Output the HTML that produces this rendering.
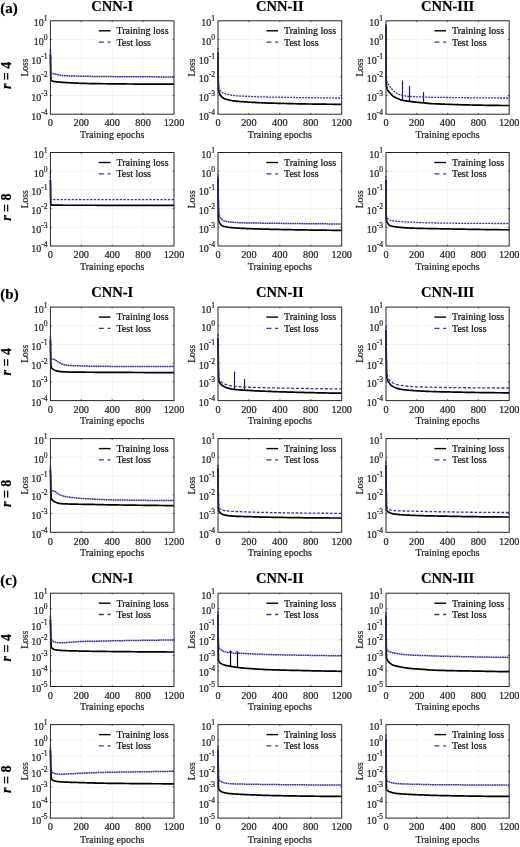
<!DOCTYPE html>
<html><head><meta charset="utf-8"><title>Training loss curves</title>
<style>html,body{margin:0;padding:0;background:#fff;}svg{display:block;}.s{font-family:"Liberation Serif","Times New Roman",serif;fill:#262626;stroke:#262626;stroke-width:0.22px;}.t{font-size:10px;}.tk{font-size:10px;text-anchor:end;}.sp{font-size:7.6px;}.xc{font-size:10px;text-anchor:middle;}.xt{font-size:10.3px;}.yl{font-size:9.5px;text-anchor:middle;}.lg{font-size:10px;fill:#111;stroke:#111;}.b{font-weight:bold;fill:#000;stroke:#000;stroke-width:0.2px;}.ti{font-size:14.5px;text-anchor:middle;}.sec{font-size:15px;}.rl{font-size:14px;text-anchor:middle;}.g{stroke:#ededed;stroke-width:0.6;fill:none;}.ax{stroke:#262626;stroke-width:1;fill:none;}.tm{stroke:#262626;stroke-width:0.8;fill:none;}.tr{stroke:#000;stroke-width:1.7;fill:none;stroke-linejoin:round;}.te{stroke:#3030b4;fill:none;stroke-linejoin:round;}</style></head><body>
<svg width="520" height="847" viewBox="0 0 520 847">
<rect width="520" height="847" fill="#fff"/>
<text class="s b sec" x="0.3" y="12.7">(a)</text>
<text class="s b ti" x="112.2" y="11">CNN-I</text>
<text class="s b ti" x="279.85" y="11">CNN-II</text>
<text class="s b ti" x="447.6" y="11">CNN-III</text>
<text class="s b sec" x="0.3" y="299">(b)</text>
<text class="s b ti" x="112.2" y="297.3">CNN-I</text>
<text class="s b ti" x="279.85" y="297.3">CNN-II</text>
<text class="s b ti" x="447.6" y="297.3">CNN-III</text>
<text class="s b sec" x="0.3" y="585.1">(c)</text>
<text class="s b ti" x="112.2" y="583.4">CNN-I</text>
<text class="s b ti" x="279.85" y="583.4">CNN-II</text>
<text class="s b ti" x="447.6" y="583.4">CNN-III</text>
<text class="s b rl" transform="translate(10.7 75.4) rotate(-90)"><tspan font-style="italic">r</tspan> = 4</text>
<path class="g" d="M81.3 20.8V114.2M112.2 20.8V114.2M143.1 20.8V114.2M50.4 39.48H174M50.4 58.16H174M50.4 76.84H174M50.4 95.52H174"/>
<path class="tr" d="M50.4 55.00 L50.6 67.37 L50.8 76.89 L51.0 79.00 L51.2 79.61 L51.4 80.08 L51.6 80.44 L51.8 80.71 L52.0 80.89 L52.2 81.02 L52.4 81.10 L52.9 81.25 L53.4 81.38 L53.9 81.48 L54.4 81.57 L54.9 81.65 L55.4 81.71 L55.9 81.76 L56.4 81.81 L56.9 81.85 L57.4 81.89 L57.9 81.94 L58.4 81.98 L58.9 82.03 L59.4 82.08 L59.9 82.12 L60.4 82.17 L60.9 82.21 L61.4 82.25 L61.9 82.29 L62.4 82.32 L63.4 82.40 L64.4 82.46 L65.4 82.53 L66.4 82.59 L67.4 82.65 L68.4 82.71 L69.4 82.77 L70.4 82.83 L71.4 82.89 L72.4 82.94 L73.4 83.00 L74.4 83.05 L75.4 83.10 L76.4 83.14 L77.4 83.18 L78.4 83.22 L79.4 83.26 L80.4 83.30 L81.4 83.33 L82.4 83.36 L83.4 83.39 L84.4 83.42 L85.4 83.45 L86.4 83.47 L87.4 83.50 L88.4 83.52 L89.4 83.54 L90.4 83.56 L92.9 83.61 L95.4 83.65 L97.9 83.69 L100.4 83.72 L102.9 83.74 L105.4 83.77 L107.9 83.79 L110.4 83.82 L112.9 83.84 L115.4 83.87 L117.9 83.89 L120.4 83.92 L122.9 83.94 L125.4 83.96 L127.9 83.98 L130.4 84.00 L132.9 84.02 L135.4 84.04 L137.9 84.06 L140.4 84.08 L142.9 84.10 L145.4 84.11 L147.9 84.12 L150.4 84.14 L152.9 84.15 L155.4 84.16 L157.9 84.17 L160.4 84.18 L162.9 84.19 L165.4 84.19 L167.9 84.20 L170.4 84.20 L172.9 84.20 L174.0 84.20"/>
<path class="te" stroke-width="1.5" stroke-dasharray="1.8 0.5" d="M50.4 49.50 L50.6 61.56 L50.8 71.27 L51.0 72.98 L51.2 73.11 L51.4 73.23 L51.6 73.32 L51.8 73.40 L52.0 73.46 L52.2 73.52 L52.4 73.56 L52.9 73.64 L53.4 73.72 L53.9 73.83 L54.4 73.95 L54.9 74.06 L55.4 74.17 L55.9 74.28 L56.4 74.38 L56.9 74.48 L57.4 74.58 L57.9 74.67 L58.4 74.76 L58.9 74.86 L59.4 74.95 L59.9 75.05 L60.4 75.15 L60.9 75.25 L61.4 75.34 L61.9 75.42 L62.4 75.50 L63.4 75.60 L64.4 75.67 L65.4 75.73 L66.4 75.78 L67.4 75.82 L68.4 75.86 L69.4 75.89 L70.4 75.93 L71.4 75.95 L72.4 75.98 L73.4 76.01 L74.4 76.04 L75.4 76.06 L76.4 76.09 L77.4 76.11 L78.4 76.13 L79.4 76.15 L80.4 76.17 L81.4 76.19 L82.4 76.21 L83.4 76.23 L84.4 76.24 L85.4 76.26 L86.4 76.28 L87.4 76.30 L88.4 76.32 L89.4 76.34 L90.4 76.36 L92.9 76.41 L95.4 76.45 L97.9 76.49 L100.4 76.51 L102.9 76.54 L105.4 76.56 L107.9 76.58 L110.4 76.60 L112.9 76.62 L115.4 76.64 L117.9 76.66 L120.4 76.68 L122.9 76.70 L125.4 76.72 L127.9 76.73 L130.4 76.75 L132.9 76.77 L135.4 76.78 L137.9 76.80 L140.4 76.81 L142.9 76.82 L145.4 76.83 L147.9 76.84 L150.4 76.85 L152.9 76.86 L155.4 76.87 L157.9 76.88 L160.4 76.88 L162.9 76.89 L165.4 76.89 L167.9 76.90 L170.4 76.90 L172.9 76.90 L174.0 76.90"/>
<rect x="96.4" y="20.8" width="77.6" height="26" fill="#fff"/>
<rect class="ax" x="50.4" y="20.8" width="123.6" height="93.4"/>
<path class="tm" d="M81.3 114.2v-1.3M81.3 20.8v1.3M112.2 114.2v-1.3M112.2 20.8v1.3M143.1 114.2v-1.3M143.1 20.8v1.3M50.4 39.48h1.3M174 39.48h-1.3M50.4 58.16h1.3M174 58.16h-1.3M50.4 76.84h1.3M174 76.84h-1.3M50.4 95.52h1.3M174 95.52h-1.3"/>
<text class="s tk" x="47.5" y="26.3">10<tspan class="sp" dy="-5">1</tspan></text>
<text class="s tk" x="47.5" y="44.98">10<tspan class="sp" dy="-5">0</tspan></text>
<text class="s tk" x="47.5" y="63.66">10<tspan class="sp" dy="-5">-1</tspan></text>
<text class="s tk" x="47.5" y="82.34">10<tspan class="sp" dy="-5">-2</tspan></text>
<text class="s tk" x="47.5" y="101.02">10<tspan class="sp" dy="-5">-3</tspan></text>
<text class="s tk" x="47.5" y="119.7">10<tspan class="sp" dy="-5">-4</tspan></text>
<text class="s xc xt" x="50.4" y="126.4">0</text>
<text class="s xc xt" x="81.3" y="126.4">200</text>
<text class="s xc xt" x="112.2" y="126.4">400</text>
<text class="s xc xt" x="143.1" y="126.4">800</text>
<text class="s xc xt" x="174" y="126.4">1200</text>
<text class="s xc" x="112.2" y="137.8">Training epochs</text>
<text class="s yl" transform="translate(27.6 67.5) rotate(-90)">Loss</text>
<path d="M98.8 30.8h11.7" stroke="#000" stroke-width="1.4"/>
<path d="M98.8 42.1h11.7" stroke="#3030b4" stroke-width="1.3" stroke-dasharray="5 3.8"/>
<text class="s lg" x="116.4" y="34.1">Training loss</text>
<text class="s lg" x="116.4" y="45.65">Test loss</text>
<path class="g" d="M248.93 20.8V114.2M279.85 20.8V114.2M310.77 20.8V114.2M218 39.48H341.7M218 58.16H341.7M218 76.84H341.7M218 95.52H341.7"/>
<path class="tr" d="M218.0 53.00 L218.2 75.87 L218.4 88.80 L218.6 90.25 L218.8 91.34 L219.0 92.14 L219.2 92.72 L219.4 93.16 L219.6 93.53 L219.8 93.90 L220.0 94.31 L220.5 95.29 L221.0 96.09 L221.5 96.72 L222.0 97.16 L222.5 97.53 L223.0 97.86 L223.5 98.15 L224.0 98.42 L224.5 98.65 L225.0 98.86 L225.5 99.05 L226.0 99.22 L226.5 99.37 L227.0 99.51 L227.5 99.65 L228.0 99.78 L228.5 99.90 L229.0 100.02 L229.5 100.14 L230.0 100.24 L231.0 100.44 L232.0 100.63 L233.0 100.79 L234.0 100.93 L235.0 101.06 L236.0 101.18 L237.0 101.28 L238.0 101.37 L239.0 101.45 L240.0 101.53 L241.0 101.60 L242.0 101.66 L243.0 101.72 L244.0 101.78 L245.0 101.85 L246.0 101.91 L247.0 101.98 L248.0 102.05 L249.0 102.11 L250.0 102.18 L251.0 102.24 L252.0 102.30 L253.0 102.36 L254.0 102.42 L255.0 102.47 L256.0 102.53 L257.0 102.58 L258.0 102.63 L260.5 102.75 L263.0 102.86 L265.5 102.95 L268.0 103.03 L270.5 103.10 L273.0 103.16 L275.5 103.23 L278.0 103.30 L280.5 103.36 L283.0 103.43 L285.5 103.49 L288.0 103.55 L290.5 103.61 L293.0 103.67 L295.5 103.73 L298.0 103.78 L300.5 103.83 L303.0 103.88 L305.5 103.93 L308.0 103.98 L310.5 104.02 L313.0 104.06 L315.5 104.10 L318.0 104.13 L320.5 104.16 L323.0 104.19 L325.5 104.22 L328.0 104.24 L330.5 104.26 L333.0 104.28 L335.5 104.29 L338.0 104.30 L340.5 104.30 L341.7 104.30"/>
<path class="te" stroke-width="1.3" stroke-dasharray="2 1" d="M218.0 48.00 L218.2 67.10 L218.4 81.15 L218.6 84.91 L218.8 86.30 L219.0 87.23 L219.2 87.88 L219.4 88.40 L219.6 88.90 L219.8 89.36 L220.0 89.79 L220.5 90.71 L221.0 91.43 L221.5 91.97 L222.0 92.33 L222.5 92.63 L223.0 92.90 L223.5 93.13 L224.0 93.33 L224.5 93.51 L225.0 93.67 L225.5 93.81 L226.0 93.95 L226.5 94.07 L227.0 94.20 L227.5 94.32 L228.0 94.44 L228.5 94.56 L229.0 94.67 L229.5 94.78 L230.0 94.89 L231.0 95.09 L232.0 95.27 L233.0 95.43 L234.0 95.57 L235.0 95.69 L236.0 95.78 L237.0 95.86 L238.0 95.93 L239.0 95.99 L240.0 96.04 L241.0 96.09 L242.0 96.14 L243.0 96.18 L244.0 96.22 L245.0 96.26 L246.0 96.31 L247.0 96.36 L248.0 96.40 L249.0 96.45 L250.0 96.49 L251.0 96.53 L252.0 96.57 L253.0 96.61 L254.0 96.65 L255.0 96.68 L256.0 96.72 L257.0 96.75 L258.0 96.78 L260.5 96.85 L263.0 96.91 L265.5 96.97 L268.0 97.02 L270.5 97.07 L273.0 97.11 L275.5 97.16 L278.0 97.21 L280.5 97.26 L283.0 97.30 L285.5 97.35 L288.0 97.39 L290.5 97.43 L293.0 97.48 L295.5 97.52 L298.0 97.56 L300.5 97.60 L303.0 97.64 L305.5 97.67 L308.0 97.71 L310.5 97.74 L313.0 97.78 L315.5 97.81 L318.0 97.83 L320.5 97.86 L323.0 97.89 L325.5 97.91 L328.0 97.93 L330.5 97.95 L333.0 97.96 L335.5 97.98 L338.0 97.99 L340.5 98.00 L341.7 98.00"/>
<rect x="264" y="20.8" width="77.7" height="26" fill="#fff"/>
<rect class="ax" x="218" y="20.8" width="123.7" height="93.4"/>
<path class="tm" d="M248.93 114.2v-1.3M248.93 20.8v1.3M279.85 114.2v-1.3M279.85 20.8v1.3M310.77 114.2v-1.3M310.77 20.8v1.3M218 39.48h1.3M341.7 39.48h-1.3M218 58.16h1.3M341.7 58.16h-1.3M218 76.84h1.3M341.7 76.84h-1.3M218 95.52h1.3M341.7 95.52h-1.3"/>
<text class="s tk" x="215.1" y="26.3">10<tspan class="sp" dy="-5">1</tspan></text>
<text class="s tk" x="215.1" y="44.98">10<tspan class="sp" dy="-5">0</tspan></text>
<text class="s tk" x="215.1" y="63.66">10<tspan class="sp" dy="-5">-1</tspan></text>
<text class="s tk" x="215.1" y="82.34">10<tspan class="sp" dy="-5">-2</tspan></text>
<text class="s tk" x="215.1" y="101.02">10<tspan class="sp" dy="-5">-3</tspan></text>
<text class="s tk" x="215.1" y="119.7">10<tspan class="sp" dy="-5">-4</tspan></text>
<text class="s xc xt" x="218" y="126.4">0</text>
<text class="s xc xt" x="248.93" y="126.4">200</text>
<text class="s xc xt" x="279.85" y="126.4">400</text>
<text class="s xc xt" x="310.77" y="126.4">800</text>
<text class="s xc xt" x="341.7" y="126.4">1200</text>
<text class="s xc" x="279.85" y="137.8">Training epochs</text>
<text class="s yl" transform="translate(195.2 67.5) rotate(-90)">Loss</text>
<path d="M266.4 30.8h11.7" stroke="#000" stroke-width="1.4"/>
<path d="M266.4 42.1h11.7" stroke="#3030b4" stroke-width="1.3" stroke-dasharray="5 3.8"/>
<text class="s lg" x="284" y="34.1">Training loss</text>
<text class="s lg" x="284" y="45.65">Test loss</text>
<path class="g" d="M416.8 20.8V114.2M447.6 20.8V114.2M478.4 20.8V114.2M386 39.48H509.2M386 58.16H509.2M386 76.84H509.2M386 95.52H509.2"/>
<path d="M402.5 100.3V80.7" stroke="#1a1a70" stroke-width="1.2"/>
<path d="M409.5 101.2V86" stroke="#1a1a70" stroke-width="1.2"/>
<path d="M423.5 102.8V92.2" stroke="#1a1a70" stroke-width="1.2"/>
<path class="tr" d="M386.0 26.00 L386.2 80.20 L386.4 84.19 L386.6 86.41 L386.8 87.54 L387.0 88.23 L387.2 88.83 L387.4 89.35 L387.6 89.81 L387.8 90.21 L388.0 90.56 L388.5 91.26 L389.0 91.82 L389.5 92.35 L390.0 92.95 L390.5 93.56 L391.0 94.13 L391.5 94.67 L392.0 95.18 L392.5 95.64 L393.0 96.06 L393.5 96.43 L394.0 96.76 L394.5 97.07 L395.0 97.36 L395.5 97.62 L396.0 97.87 L396.5 98.11 L397.0 98.33 L397.5 98.54 L398.0 98.74 L399.0 99.13 L400.0 99.49 L401.0 99.82 L402.0 100.11 L403.0 100.36 L404.0 100.56 L405.0 100.74 L406.0 100.91 L407.0 101.06 L408.0 101.20 L409.0 101.34 L410.0 101.46 L411.0 101.58 L412.0 101.70 L413.0 101.82 L414.0 101.94 L415.0 102.05 L416.0 102.16 L417.0 102.27 L418.0 102.37 L419.0 102.47 L420.0 102.57 L421.0 102.66 L422.0 102.75 L423.0 102.85 L424.0 102.94 L425.0 103.04 L426.0 103.14 L428.5 103.37 L431.0 103.57 L433.5 103.73 L436.0 103.83 L438.5 103.94 L441.0 104.03 L443.5 104.13 L446.0 104.23 L448.5 104.32 L451.0 104.41 L453.5 104.49 L456.0 104.58 L458.5 104.65 L461.0 104.73 L463.5 104.81 L466.0 104.88 L468.5 104.94 L471.0 105.01 L473.5 105.07 L476.0 105.12 L478.5 105.18 L481.0 105.22 L483.5 105.27 L486.0 105.31 L488.5 105.35 L491.0 105.38 L493.5 105.41 L496.0 105.44 L498.5 105.46 L501.0 105.48 L503.5 105.49 L506.0 105.50 L508.5 105.50 L509.2 105.50"/>
<path class="te" stroke-width="1.3" stroke-dasharray="2 1" d="M386.0 24.00 L386.2 59.19 L386.4 79.20 L386.6 80.23 L386.8 81.07 L387.0 81.74 L387.2 82.28 L387.4 82.70 L387.6 83.04 L387.8 83.30 L388.0 83.53 L388.5 84.07 L389.0 84.84 L389.5 85.65 L390.0 86.43 L390.5 87.16 L391.0 87.86 L391.5 88.51 L392.0 89.13 L392.5 89.70 L393.0 90.23 L393.5 90.71 L394.0 91.16 L394.5 91.58 L395.0 91.99 L395.5 92.37 L396.0 92.73 L396.5 93.07 L397.0 93.38 L397.5 93.66 L398.0 93.92 L399.0 94.35 L400.0 94.73 L401.0 95.06 L402.0 95.34 L403.0 95.56 L404.0 95.74 L405.0 95.90 L406.0 96.05 L407.0 96.18 L408.0 96.30 L409.0 96.41 L410.0 96.51 L411.0 96.59 L412.0 96.66 L413.0 96.71 L414.0 96.75 L415.0 96.79 L416.0 96.83 L417.0 96.86 L418.0 96.88 L419.0 96.91 L420.0 96.93 L421.0 96.96 L422.0 96.99 L423.0 97.01 L424.0 97.04 L425.0 97.07 L426.0 97.10 L428.5 97.18 L431.0 97.24 L433.5 97.29 L436.0 97.33 L438.5 97.37 L441.0 97.41 L443.5 97.44 L446.0 97.48 L448.5 97.51 L451.0 97.55 L453.5 97.58 L456.0 97.62 L458.5 97.65 L461.0 97.68 L463.5 97.71 L466.0 97.74 L468.5 97.76 L471.0 97.79 L473.5 97.81 L476.0 97.84 L478.5 97.86 L481.0 97.88 L483.5 97.90 L486.0 97.92 L488.5 97.93 L491.0 97.95 L493.5 97.96 L496.0 97.97 L498.5 97.98 L501.0 97.99 L503.5 97.99 L506.0 98.00 L508.5 98.00 L509.2 98.00"/>
<rect x="432" y="20.8" width="77.2" height="26" fill="#fff"/>
<rect class="ax" x="386" y="20.8" width="123.2" height="93.4"/>
<path class="tm" d="M416.8 114.2v-1.3M416.8 20.8v1.3M447.6 114.2v-1.3M447.6 20.8v1.3M478.4 114.2v-1.3M478.4 20.8v1.3M386 39.48h1.3M509.2 39.48h-1.3M386 58.16h1.3M509.2 58.16h-1.3M386 76.84h1.3M509.2 76.84h-1.3M386 95.52h1.3M509.2 95.52h-1.3"/>
<text class="s tk" x="383.1" y="26.3">10<tspan class="sp" dy="-5">1</tspan></text>
<text class="s tk" x="383.1" y="44.98">10<tspan class="sp" dy="-5">0</tspan></text>
<text class="s tk" x="383.1" y="63.66">10<tspan class="sp" dy="-5">-1</tspan></text>
<text class="s tk" x="383.1" y="82.34">10<tspan class="sp" dy="-5">-2</tspan></text>
<text class="s tk" x="383.1" y="101.02">10<tspan class="sp" dy="-5">-3</tspan></text>
<text class="s tk" x="383.1" y="119.7">10<tspan class="sp" dy="-5">-4</tspan></text>
<text class="s xc xt" x="386" y="126.4">0</text>
<text class="s xc xt" x="416.8" y="126.4">200</text>
<text class="s xc xt" x="447.6" y="126.4">400</text>
<text class="s xc xt" x="478.4" y="126.4">800</text>
<text class="s xc xt" x="509.2" y="126.4">1200</text>
<text class="s xc" x="447.6" y="137.8">Training epochs</text>
<text class="s yl" transform="translate(363.2 67.5) rotate(-90)">Loss</text>
<path d="M434.4 30.8h11.7" stroke="#000" stroke-width="1.4"/>
<path d="M434.4 42.1h11.7" stroke="#3030b4" stroke-width="1.3" stroke-dasharray="5 3.8"/>
<text class="s lg" x="452" y="34.1">Training loss</text>
<text class="s lg" x="452" y="45.65">Test loss</text>
<text class="s b rl" transform="translate(10.7 207.15) rotate(-90)"><tspan font-style="italic">r</tspan> = 8</text>
<path class="g" d="M81.3 152.5V246M112.2 152.5V246M143.1 152.5V246M50.4 171.2H174M50.4 189.9H174M50.4 208.6H174M50.4 227.3H174"/>
<path class="tr" d="M50.4 180.00 L50.6 196.30 L50.8 204.50 L51.0 204.86 L51.2 205.08 L51.4 205.19 L51.6 205.20 L51.8 205.20 L52.0 205.20 L52.2 205.20 L52.4 205.20 L52.9 205.20 L53.4 205.20 L53.9 205.21 L54.4 205.21 L54.9 205.21 L55.4 205.21 L55.9 205.21 L56.4 205.21 L56.9 205.21 L57.4 205.21 L57.9 205.21 L58.4 205.22 L58.9 205.22 L59.4 205.22 L59.9 205.22 L60.4 205.22 L60.9 205.22 L61.4 205.22 L61.9 205.22 L62.4 205.22 L63.4 205.23 L64.4 205.23 L65.4 205.23 L66.4 205.23 L67.4 205.23 L68.4 205.24 L69.4 205.24 L70.4 205.24 L71.4 205.24 L72.4 205.24 L73.4 205.24 L74.4 205.25 L75.4 205.25 L76.4 205.25 L77.4 205.25 L78.4 205.25 L79.4 205.25 L80.4 205.26 L81.4 205.26 L82.4 205.26 L83.4 205.26 L84.4 205.26 L85.4 205.26 L86.4 205.26 L87.4 205.26 L88.4 205.27 L89.4 205.27 L90.4 205.27 L92.9 205.27 L95.4 205.27 L97.9 205.28 L100.4 205.28 L102.9 205.28 L105.4 205.28 L107.9 205.28 L110.4 205.29 L112.9 205.29 L115.4 205.29 L117.9 205.29 L120.4 205.29 L122.9 205.29 L125.4 205.29 L127.9 205.29 L130.4 205.30 L132.9 205.30 L135.4 205.30 L137.9 205.30 L140.4 205.30 L142.9 205.30 L145.4 205.30 L147.9 205.30 L150.4 205.30 L152.9 205.30 L155.4 205.30 L157.9 205.30 L160.4 205.30 L162.9 205.30 L165.4 205.30 L167.9 205.30 L170.4 205.30 L172.9 205.30 L174.0 205.30"/>
<path class="te" stroke-width="1.3" stroke-dasharray="2.3 1.4" d="M50.4 172.00 L50.6 189.99 L50.8 199.00 L51.0 199.31 L51.2 199.50 L51.4 199.59 L51.6 199.60 L51.8 199.60 L52.0 199.60 L52.2 199.60 L52.4 199.60 L52.9 199.60 L53.4 199.60 L53.9 199.61 L54.4 199.61 L54.9 199.61 L55.4 199.61 L55.9 199.61 L56.4 199.61 L56.9 199.61 L57.4 199.61 L57.9 199.61 L58.4 199.62 L58.9 199.62 L59.4 199.62 L59.9 199.62 L60.4 199.62 L60.9 199.62 L61.4 199.62 L61.9 199.62 L62.4 199.62 L63.4 199.63 L64.4 199.63 L65.4 199.63 L66.4 199.63 L67.4 199.63 L68.4 199.64 L69.4 199.64 L70.4 199.64 L71.4 199.64 L72.4 199.64 L73.4 199.64 L74.4 199.65 L75.4 199.65 L76.4 199.65 L77.4 199.65 L78.4 199.65 L79.4 199.65 L80.4 199.66 L81.4 199.66 L82.4 199.66 L83.4 199.66 L84.4 199.66 L85.4 199.66 L86.4 199.66 L87.4 199.66 L88.4 199.67 L89.4 199.67 L90.4 199.67 L92.9 199.67 L95.4 199.67 L97.9 199.68 L100.4 199.68 L102.9 199.68 L105.4 199.68 L107.9 199.68 L110.4 199.69 L112.9 199.69 L115.4 199.69 L117.9 199.69 L120.4 199.69 L122.9 199.69 L125.4 199.69 L127.9 199.69 L130.4 199.70 L132.9 199.70 L135.4 199.70 L137.9 199.70 L140.4 199.70 L142.9 199.70 L145.4 199.70 L147.9 199.70 L150.4 199.70 L152.9 199.70 L155.4 199.70 L157.9 199.70 L160.4 199.70 L162.9 199.70 L165.4 199.70 L167.9 199.70 L170.4 199.70 L172.9 199.70 L174.0 199.70"/>
<rect x="96.4" y="152.5" width="77.6" height="26" fill="#fff"/>
<rect class="ax" x="50.4" y="152.5" width="123.6" height="93.5"/>
<path class="tm" d="M81.3 246v-1.3M81.3 152.5v1.3M112.2 246v-1.3M112.2 152.5v1.3M143.1 246v-1.3M143.1 152.5v1.3M50.4 171.2h1.3M174 171.2h-1.3M50.4 189.9h1.3M174 189.9h-1.3M50.4 208.6h1.3M174 208.6h-1.3M50.4 227.3h1.3M174 227.3h-1.3"/>
<text class="s tk" x="47.5" y="158">10<tspan class="sp" dy="-5">1</tspan></text>
<text class="s tk" x="47.5" y="176.7">10<tspan class="sp" dy="-5">0</tspan></text>
<text class="s tk" x="47.5" y="195.4">10<tspan class="sp" dy="-5">-1</tspan></text>
<text class="s tk" x="47.5" y="214.1">10<tspan class="sp" dy="-5">-2</tspan></text>
<text class="s tk" x="47.5" y="232.8">10<tspan class="sp" dy="-5">-3</tspan></text>
<text class="s tk" x="47.5" y="251.5">10<tspan class="sp" dy="-5">-4</tspan></text>
<text class="s xc xt" x="50.4" y="258.2">0</text>
<text class="s xc xt" x="81.3" y="258.2">200</text>
<text class="s xc xt" x="112.2" y="258.2">400</text>
<text class="s xc xt" x="143.1" y="258.2">800</text>
<text class="s xc xt" x="174" y="258.2">1200</text>
<text class="s xc" x="112.2" y="269.6">Training epochs</text>
<text class="s yl" transform="translate(27.6 199.25) rotate(-90)">Loss</text>
<path d="M98.8 162.5h11.7" stroke="#000" stroke-width="1.4"/>
<path d="M98.8 173.8h11.7" stroke="#3030b4" stroke-width="1.3" stroke-dasharray="5 3.8"/>
<text class="s lg" x="116.4" y="165.8">Training loss</text>
<text class="s lg" x="116.4" y="177.35">Test loss</text>
<path class="g" d="M248.93 152.5V246M279.85 152.5V246M310.77 152.5V246M218 171.2H341.7M218 189.9H341.7M218 208.6H341.7M218 227.3H341.7"/>
<path class="tr" d="M218.0 178.00 L218.2 203.53 L218.4 217.90 L218.6 219.37 L218.8 220.48 L219.0 221.31 L219.2 221.91 L219.4 222.36 L219.6 222.71 L219.8 223.03 L220.0 223.37 L220.5 224.15 L221.0 224.75 L221.5 225.20 L222.0 225.51 L222.5 225.76 L223.0 225.99 L223.5 226.19 L224.0 226.37 L224.5 226.53 L225.0 226.67 L225.5 226.79 L226.0 226.89 L226.5 226.98 L227.0 227.07 L227.5 227.14 L228.0 227.22 L228.5 227.29 L229.0 227.35 L229.5 227.41 L230.0 227.47 L231.0 227.58 L232.0 227.68 L233.0 227.76 L234.0 227.84 L235.0 227.92 L236.0 227.99 L237.0 228.05 L238.0 228.12 L239.0 228.18 L240.0 228.23 L241.0 228.28 L242.0 228.33 L243.0 228.38 L244.0 228.42 L245.0 228.47 L246.0 228.51 L247.0 228.55 L248.0 228.59 L249.0 228.63 L250.0 228.67 L251.0 228.71 L252.0 228.75 L253.0 228.78 L254.0 228.82 L255.0 228.85 L256.0 228.89 L257.0 228.92 L258.0 228.95 L260.5 229.03 L263.0 229.10 L265.5 229.17 L268.0 229.22 L270.5 229.28 L273.0 229.33 L275.5 229.39 L278.0 229.44 L280.5 229.49 L283.0 229.55 L285.5 229.60 L288.0 229.65 L290.5 229.70 L293.0 229.75 L295.5 229.79 L298.0 229.84 L300.5 229.88 L303.0 229.93 L305.5 229.97 L308.0 230.01 L310.5 230.05 L313.0 230.08 L315.5 230.11 L318.0 230.15 L320.5 230.17 L323.0 230.20 L325.5 230.22 L328.0 230.24 L330.5 230.26 L333.0 230.28 L335.5 230.29 L338.0 230.29 L340.5 230.30 L341.7 230.30"/>
<path class="te" stroke-width="1.5" stroke-dasharray="1.8 0.5" d="M218.0 173.75 L218.2 185.36 L218.4 196.53 L218.6 205.81 L218.8 211.74 L219.0 213.57 L219.2 214.58 L219.4 215.42 L219.6 216.12 L219.8 216.69 L220.0 217.16 L220.5 218.01 L221.0 218.64 L221.5 219.17 L222.0 219.60 L222.5 219.96 L223.0 220.26 L223.5 220.51 L224.0 220.73 L224.5 220.93 L225.0 221.10 L225.5 221.25 L226.0 221.38 L226.5 221.48 L227.0 221.57 L227.5 221.65 L228.0 221.72 L228.5 221.79 L229.0 221.86 L229.5 221.92 L230.0 221.98 L231.0 222.09 L232.0 222.19 L233.0 222.28 L234.0 222.36 L235.0 222.42 L236.0 222.49 L237.0 222.55 L238.0 222.60 L239.0 222.65 L240.0 222.70 L241.0 222.74 L242.0 222.78 L243.0 222.82 L244.0 222.85 L245.0 222.88 L246.0 222.90 L247.0 222.93 L248.0 222.95 L249.0 222.97 L250.0 222.98 L251.0 223.00 L252.0 223.02 L253.0 223.03 L254.0 223.05 L255.0 223.06 L256.0 223.07 L257.0 223.08 L258.0 223.10 L260.5 223.12 L263.0 223.15 L265.5 223.18 L268.0 223.21 L270.5 223.24 L273.0 223.27 L275.5 223.31 L278.0 223.34 L280.5 223.37 L283.0 223.40 L285.5 223.43 L288.0 223.46 L290.5 223.49 L293.0 223.51 L295.5 223.54 L298.0 223.57 L300.5 223.60 L303.0 223.63 L305.5 223.65 L308.0 223.68 L310.5 223.71 L313.0 223.73 L315.5 223.76 L318.0 223.79 L320.5 223.81 L323.0 223.83 L325.5 223.86 L328.0 223.88 L330.5 223.90 L333.0 223.93 L335.5 223.95 L338.0 223.97 L340.5 223.99 L341.7 224.00"/>
<rect x="264" y="152.5" width="77.7" height="26" fill="#fff"/>
<rect class="ax" x="218" y="152.5" width="123.7" height="93.5"/>
<path class="tm" d="M248.93 246v-1.3M248.93 152.5v1.3M279.85 246v-1.3M279.85 152.5v1.3M310.77 246v-1.3M310.77 152.5v1.3M218 171.2h1.3M341.7 171.2h-1.3M218 189.9h1.3M341.7 189.9h-1.3M218 208.6h1.3M341.7 208.6h-1.3M218 227.3h1.3M341.7 227.3h-1.3"/>
<text class="s tk" x="215.1" y="158">10<tspan class="sp" dy="-5">1</tspan></text>
<text class="s tk" x="215.1" y="176.7">10<tspan class="sp" dy="-5">0</tspan></text>
<text class="s tk" x="215.1" y="195.4">10<tspan class="sp" dy="-5">-1</tspan></text>
<text class="s tk" x="215.1" y="214.1">10<tspan class="sp" dy="-5">-2</tspan></text>
<text class="s tk" x="215.1" y="232.8">10<tspan class="sp" dy="-5">-3</tspan></text>
<text class="s tk" x="215.1" y="251.5">10<tspan class="sp" dy="-5">-4</tspan></text>
<text class="s xc xt" x="218" y="258.2">0</text>
<text class="s xc xt" x="248.93" y="258.2">200</text>
<text class="s xc xt" x="279.85" y="258.2">400</text>
<text class="s xc xt" x="310.77" y="258.2">800</text>
<text class="s xc xt" x="341.7" y="258.2">1200</text>
<text class="s xc" x="279.85" y="269.6">Training epochs</text>
<text class="s yl" transform="translate(195.2 199.25) rotate(-90)">Loss</text>
<path d="M266.4 162.5h11.7" stroke="#000" stroke-width="1.4"/>
<path d="M266.4 173.8h11.7" stroke="#3030b4" stroke-width="1.3" stroke-dasharray="5 3.8"/>
<text class="s lg" x="284" y="165.8">Training loss</text>
<text class="s lg" x="284" y="177.35">Test loss</text>
<path class="g" d="M416.8 152.5V246M447.6 152.5V246M478.4 152.5V246M386 171.2H509.2M386 189.9H509.2M386 208.6H509.2M386 227.3H509.2"/>
<path class="tr" d="M386.0 180.00 L386.2 217.90 L386.4 219.61 L386.6 220.78 L386.8 221.54 L387.0 222.02 L387.2 222.37 L387.4 222.70 L387.6 223.06 L387.8 223.39 L388.0 223.70 L388.5 224.36 L389.0 224.87 L389.5 225.24 L390.0 225.49 L390.5 225.70 L391.0 225.88 L391.5 226.04 L392.0 226.18 L392.5 226.31 L393.0 226.42 L393.5 226.51 L394.0 226.60 L394.5 226.68 L395.0 226.76 L395.5 226.84 L396.0 226.91 L396.5 226.97 L397.0 227.04 L397.5 227.10 L398.0 227.16 L399.0 227.27 L400.0 227.36 L401.0 227.45 L402.0 227.54 L403.0 227.61 L404.0 227.69 L405.0 227.75 L406.0 227.82 L407.0 227.88 L408.0 227.94 L409.0 227.99 L410.0 228.04 L411.0 228.09 L412.0 228.13 L413.0 228.17 L414.0 228.21 L415.0 228.24 L416.0 228.27 L417.0 228.30 L418.0 228.33 L419.0 228.36 L420.0 228.38 L421.0 228.41 L422.0 228.43 L423.0 228.46 L424.0 228.48 L425.0 228.50 L426.0 228.52 L428.5 228.58 L431.0 228.62 L433.5 228.67 L436.0 228.72 L438.5 228.77 L441.0 228.81 L443.5 228.86 L446.0 228.91 L448.5 228.95 L451.0 229.00 L453.5 229.04 L456.0 229.09 L458.5 229.13 L461.0 229.17 L463.5 229.21 L466.0 229.25 L468.5 229.30 L471.0 229.33 L473.5 229.37 L476.0 229.41 L478.5 229.45 L481.0 229.48 L483.5 229.52 L486.0 229.55 L488.5 229.58 L491.0 229.61 L493.5 229.64 L496.0 229.67 L498.5 229.70 L501.0 229.73 L503.5 229.75 L506.0 229.77 L508.5 229.79 L509.2 229.80"/>
<path class="te" stroke-width="1.3" stroke-dasharray="2 1" d="M386.0 176.00 L386.2 201.18 L386.4 215.50 L386.6 216.25 L386.8 216.87 L387.0 217.39 L387.2 217.81 L387.4 218.15 L387.6 218.42 L387.8 218.63 L388.0 218.80 L388.5 219.12 L389.0 219.43 L389.5 219.72 L390.0 219.97 L390.5 220.19 L391.0 220.37 L391.5 220.53 L392.0 220.66 L392.5 220.76 L393.0 220.85 L393.5 220.93 L394.0 221.00 L394.5 221.07 L395.0 221.13 L395.5 221.18 L396.0 221.23 L396.5 221.28 L397.0 221.32 L397.5 221.36 L398.0 221.40 L399.0 221.47 L400.0 221.54 L401.0 221.61 L402.0 221.66 L403.0 221.72 L404.0 221.77 L405.0 221.82 L406.0 221.87 L407.0 221.92 L408.0 221.96 L409.0 222.00 L410.0 222.04 L411.0 222.08 L412.0 222.12 L413.0 222.17 L414.0 222.21 L415.0 222.25 L416.0 222.30 L417.0 222.34 L418.0 222.39 L419.0 222.44 L420.0 222.48 L421.0 222.53 L422.0 222.57 L423.0 222.62 L424.0 222.66 L425.0 222.70 L426.0 222.74 L428.5 222.84 L431.0 222.92 L433.5 222.98 L436.0 223.01 L438.5 223.04 L441.0 223.08 L443.5 223.11 L446.0 223.13 L448.5 223.16 L451.0 223.19 L453.5 223.21 L456.0 223.24 L458.5 223.26 L461.0 223.29 L463.5 223.31 L466.0 223.33 L468.5 223.35 L471.0 223.36 L473.5 223.38 L476.0 223.40 L478.5 223.41 L481.0 223.43 L483.5 223.44 L486.0 223.45 L488.5 223.46 L491.0 223.47 L493.5 223.48 L496.0 223.48 L498.5 223.49 L501.0 223.49 L503.5 223.50 L506.0 223.50 L508.5 223.50 L509.2 223.50"/>
<rect x="432" y="152.5" width="77.2" height="26" fill="#fff"/>
<rect class="ax" x="386" y="152.5" width="123.2" height="93.5"/>
<path class="tm" d="M416.8 246v-1.3M416.8 152.5v1.3M447.6 246v-1.3M447.6 152.5v1.3M478.4 246v-1.3M478.4 152.5v1.3M386 171.2h1.3M509.2 171.2h-1.3M386 189.9h1.3M509.2 189.9h-1.3M386 208.6h1.3M509.2 208.6h-1.3M386 227.3h1.3M509.2 227.3h-1.3"/>
<text class="s tk" x="383.1" y="158">10<tspan class="sp" dy="-5">1</tspan></text>
<text class="s tk" x="383.1" y="176.7">10<tspan class="sp" dy="-5">0</tspan></text>
<text class="s tk" x="383.1" y="195.4">10<tspan class="sp" dy="-5">-1</tspan></text>
<text class="s tk" x="383.1" y="214.1">10<tspan class="sp" dy="-5">-2</tspan></text>
<text class="s tk" x="383.1" y="232.8">10<tspan class="sp" dy="-5">-3</tspan></text>
<text class="s tk" x="383.1" y="251.5">10<tspan class="sp" dy="-5">-4</tspan></text>
<text class="s xc xt" x="386" y="258.2">0</text>
<text class="s xc xt" x="416.8" y="258.2">200</text>
<text class="s xc xt" x="447.6" y="258.2">400</text>
<text class="s xc xt" x="478.4" y="258.2">800</text>
<text class="s xc xt" x="509.2" y="258.2">1200</text>
<text class="s xc" x="447.6" y="269.6">Training epochs</text>
<text class="s yl" transform="translate(363.2 199.25) rotate(-90)">Loss</text>
<path d="M434.4 162.5h11.7" stroke="#000" stroke-width="1.4"/>
<path d="M434.4 173.8h11.7" stroke="#3030b4" stroke-width="1.3" stroke-dasharray="5 3.8"/>
<text class="s lg" x="452" y="165.8">Training loss</text>
<text class="s lg" x="452" y="177.35">Test loss</text>
<text class="s b rl" transform="translate(10.7 361.75) rotate(-90)"><tspan font-style="italic">r</tspan> = 4</text>
<path class="g" d="M81.3 307.1V400.6M112.2 307.1V400.6M143.1 307.1V400.6M50.4 325.8H174M50.4 344.5H174M50.4 363.2H174M50.4 381.9H174"/>
<path class="tr" d="M50.4 340.00 L50.6 353.24 L50.8 363.66 L51.0 365.99 L51.2 366.66 L51.4 367.20 L51.6 367.62 L51.8 367.95 L52.0 368.21 L52.2 368.42 L52.4 368.59 L52.9 368.98 L53.4 369.37 L53.9 369.72 L54.4 370.02 L54.9 370.28 L55.4 370.50 L55.9 370.68 L56.4 370.83 L56.9 370.94 L57.4 371.05 L57.9 371.15 L58.4 371.24 L58.9 371.32 L59.4 371.40 L59.9 371.47 L60.4 371.54 L60.9 371.60 L61.4 371.65 L61.9 371.70 L62.4 371.74 L63.4 371.80 L64.4 371.85 L65.4 371.90 L66.4 371.94 L67.4 371.97 L68.4 372.00 L69.4 372.03 L70.4 372.05 L71.4 372.07 L72.4 372.09 L73.4 372.11 L74.4 372.12 L75.4 372.13 L76.4 372.14 L77.4 372.15 L78.4 372.16 L79.4 372.17 L80.4 372.18 L81.4 372.19 L82.4 372.20 L83.4 372.21 L84.4 372.21 L85.4 372.22 L86.4 372.23 L87.4 372.24 L88.4 372.24 L89.4 372.25 L90.4 372.25 L92.9 372.27 L95.4 372.28 L97.9 372.29 L100.4 372.31 L102.9 372.32 L105.4 372.34 L107.9 372.35 L110.4 372.36 L112.9 372.38 L115.4 372.39 L117.9 372.40 L120.4 372.41 L122.9 372.43 L125.4 372.44 L127.9 372.45 L130.4 372.46 L132.9 372.47 L135.4 372.49 L137.9 372.50 L140.4 372.51 L142.9 372.52 L145.4 372.53 L147.9 372.54 L150.4 372.54 L152.9 372.55 L155.4 372.56 L157.9 372.57 L160.4 372.57 L162.9 372.58 L165.4 372.59 L167.9 372.59 L170.4 372.59 L172.9 372.60 L174.0 372.60"/>
<path class="te" stroke-width="1.5" stroke-dasharray="1.8 0.5" d="M50.4 335.80 L50.6 347.67 L50.8 357.22 L51.0 358.84 L51.2 358.92 L51.4 358.97 L51.6 359.02 L51.8 359.06 L52.0 359.08 L52.2 359.11 L52.4 359.12 L52.9 359.16 L53.4 359.22 L53.9 359.33 L54.4 359.51 L54.9 359.75 L55.4 360.04 L55.9 360.37 L56.4 360.72 L56.9 361.08 L57.4 361.44 L57.9 361.78 L58.4 362.09 L58.9 362.37 L59.4 362.65 L59.9 362.95 L60.4 363.24 L60.9 363.52 L61.4 363.79 L61.9 364.04 L62.4 364.26 L63.4 364.60 L64.4 364.83 L65.4 365.04 L66.4 365.20 L67.4 365.33 L68.4 365.41 L69.4 365.48 L70.4 365.53 L71.4 365.58 L72.4 365.63 L73.4 365.66 L74.4 365.70 L75.4 365.73 L76.4 365.76 L77.4 365.79 L78.4 365.82 L79.4 365.85 L80.4 365.88 L81.4 365.91 L82.4 365.94 L83.4 365.97 L84.4 366.00 L85.4 366.03 L86.4 366.06 L87.4 366.09 L88.4 366.11 L89.4 366.14 L90.4 366.16 L92.9 366.21 L95.4 366.26 L97.9 366.29 L100.4 366.31 L102.9 366.33 L105.4 366.35 L107.9 366.37 L110.4 366.38 L112.9 366.40 L115.4 366.42 L117.9 366.43 L120.4 366.45 L122.9 366.46 L125.4 366.47 L127.9 366.49 L130.4 366.50 L132.9 366.51 L135.4 366.52 L137.9 366.53 L140.4 366.54 L142.9 366.55 L145.4 366.56 L147.9 366.56 L150.4 366.57 L152.9 366.58 L155.4 366.58 L157.9 366.59 L160.4 366.59 L162.9 366.59 L165.4 366.60 L167.9 366.60 L170.4 366.60 L172.9 366.60 L174.0 366.60"/>
<rect x="96.4" y="307.1" width="77.6" height="26" fill="#fff"/>
<rect class="ax" x="50.4" y="307.1" width="123.6" height="93.5"/>
<path class="tm" d="M81.3 400.6v-1.3M81.3 307.1v1.3M112.2 400.6v-1.3M112.2 307.1v1.3M143.1 400.6v-1.3M143.1 307.1v1.3M50.4 325.8h1.3M174 325.8h-1.3M50.4 344.5h1.3M174 344.5h-1.3M50.4 363.2h1.3M174 363.2h-1.3M50.4 381.9h1.3M174 381.9h-1.3"/>
<text class="s tk" x="47.5" y="312.6">10<tspan class="sp" dy="-5">1</tspan></text>
<text class="s tk" x="47.5" y="331.3">10<tspan class="sp" dy="-5">0</tspan></text>
<text class="s tk" x="47.5" y="350">10<tspan class="sp" dy="-5">-1</tspan></text>
<text class="s tk" x="47.5" y="368.7">10<tspan class="sp" dy="-5">-2</tspan></text>
<text class="s tk" x="47.5" y="387.4">10<tspan class="sp" dy="-5">-3</tspan></text>
<text class="s tk" x="47.5" y="406.1">10<tspan class="sp" dy="-5">-4</tspan></text>
<text class="s xc xt" x="50.4" y="412.8">0</text>
<text class="s xc xt" x="81.3" y="412.8">200</text>
<text class="s xc xt" x="112.2" y="412.8">400</text>
<text class="s xc xt" x="143.1" y="412.8">800</text>
<text class="s xc xt" x="174" y="412.8">1200</text>
<text class="s xc" x="112.2" y="424.2">Training epochs</text>
<text class="s yl" transform="translate(27.6 353.85) rotate(-90)">Loss</text>
<path d="M98.8 317.1h11.7" stroke="#000" stroke-width="1.4"/>
<path d="M98.8 328.4h11.7" stroke="#3030b4" stroke-width="1.3" stroke-dasharray="5 3.8"/>
<text class="s lg" x="116.4" y="320.4">Training loss</text>
<text class="s lg" x="116.4" y="331.95">Test loss</text>
<path class="g" d="M248.93 307.1V400.6M279.85 307.1V400.6M310.77 307.1V400.6M218 325.8H341.7M218 344.5H341.7M218 363.2H341.7M218 381.9H341.7"/>
<path d="M234.5 389.4V371.6" stroke="#1a1a70" stroke-width="1.2"/>
<path d="M244.5 390.2V379" stroke="#1a1a70" stroke-width="1.2"/>
<path class="tr" d="M218.0 338.00 L218.2 353.74 L218.4 368.27 L218.6 377.85 L218.8 380.08 L219.0 380.91 L219.2 381.57 L219.4 382.09 L219.6 382.51 L219.8 382.83 L220.0 383.10 L220.5 383.70 L221.0 384.29 L221.5 384.81 L222.0 385.25 L222.5 385.64 L223.0 385.98 L223.5 386.28 L224.0 386.55 L224.5 386.81 L225.0 387.05 L225.5 387.28 L226.0 387.48 L226.5 387.68 L227.0 387.85 L227.5 388.02 L228.0 388.16 L228.5 388.30 L229.0 388.43 L229.5 388.55 L230.0 388.66 L231.0 388.88 L232.0 389.07 L233.0 389.23 L234.0 389.36 L235.0 389.48 L236.0 389.58 L237.0 389.67 L238.0 389.75 L239.0 389.83 L240.0 389.90 L241.0 389.97 L242.0 390.03 L243.0 390.09 L244.0 390.16 L245.0 390.22 L246.0 390.28 L247.0 390.34 L248.0 390.40 L249.0 390.46 L250.0 390.52 L251.0 390.57 L252.0 390.63 L253.0 390.68 L254.0 390.73 L255.0 390.78 L256.0 390.83 L257.0 390.88 L258.0 390.93 L260.5 391.05 L263.0 391.16 L265.5 391.27 L268.0 391.37 L270.5 391.47 L273.0 391.57 L275.5 391.65 L278.0 391.73 L280.5 391.81 L283.0 391.89 L285.5 391.96 L288.0 392.04 L290.5 392.11 L293.0 392.18 L295.5 392.25 L298.0 392.32 L300.5 392.39 L303.0 392.46 L305.5 392.53 L308.0 392.59 L310.5 392.65 L313.0 392.71 L315.5 392.77 L318.0 392.82 L320.5 392.88 L323.0 392.92 L325.5 392.97 L328.0 393.02 L330.5 393.06 L333.0 393.09 L335.5 393.13 L338.0 393.16 L340.5 393.19 L341.7 393.20"/>
<path class="te" stroke-width="1.3" stroke-dasharray="3 1.8" d="M218.0 333.75 L218.2 347.37 L218.4 360.32 L218.6 370.87 L218.8 377.33 L219.0 378.85 L219.2 379.44 L219.4 379.91 L219.6 380.28 L219.8 380.56 L220.0 380.80 L220.5 381.30 L221.0 381.80 L221.5 382.23 L222.0 382.60 L222.5 382.94 L223.0 383.23 L223.5 383.50 L224.0 383.75 L224.5 383.99 L225.0 384.21 L225.5 384.43 L226.0 384.63 L226.5 384.82 L227.0 384.99 L227.5 385.14 L228.0 385.28 L228.5 385.40 L229.0 385.51 L229.5 385.61 L230.0 385.70 L231.0 385.88 L232.0 386.03 L233.0 386.16 L234.0 386.27 L235.0 386.37 L236.0 386.46 L237.0 386.55 L238.0 386.63 L239.0 386.70 L240.0 386.77 L241.0 386.84 L242.0 386.90 L243.0 386.96 L244.0 387.01 L245.0 387.06 L246.0 387.11 L247.0 387.16 L248.0 387.20 L249.0 387.24 L250.0 387.28 L251.0 387.32 L252.0 387.36 L253.0 387.39 L254.0 387.43 L255.0 387.46 L256.0 387.49 L257.0 387.52 L258.0 387.56 L260.5 387.63 L263.0 387.69 L265.5 387.76 L268.0 387.82 L270.5 387.87 L273.0 387.92 L275.5 387.97 L278.0 388.02 L280.5 388.06 L283.0 388.11 L285.5 388.15 L288.0 388.19 L290.5 388.24 L293.0 388.28 L295.5 388.32 L298.0 388.36 L300.5 388.40 L303.0 388.44 L305.5 388.48 L308.0 388.51 L310.5 388.55 L313.0 388.59 L315.5 388.62 L318.0 388.65 L320.5 388.69 L323.0 388.72 L325.5 388.75 L328.0 388.77 L330.5 388.80 L333.0 388.82 L335.5 388.85 L338.0 388.87 L340.5 388.89 L341.7 388.90"/>
<rect x="264" y="307.1" width="77.7" height="26" fill="#fff"/>
<rect class="ax" x="218" y="307.1" width="123.7" height="93.5"/>
<path class="tm" d="M248.93 400.6v-1.3M248.93 307.1v1.3M279.85 400.6v-1.3M279.85 307.1v1.3M310.77 400.6v-1.3M310.77 307.1v1.3M218 325.8h1.3M341.7 325.8h-1.3M218 344.5h1.3M341.7 344.5h-1.3M218 363.2h1.3M341.7 363.2h-1.3M218 381.9h1.3M341.7 381.9h-1.3"/>
<text class="s tk" x="215.1" y="312.6">10<tspan class="sp" dy="-5">1</tspan></text>
<text class="s tk" x="215.1" y="331.3">10<tspan class="sp" dy="-5">0</tspan></text>
<text class="s tk" x="215.1" y="350">10<tspan class="sp" dy="-5">-1</tspan></text>
<text class="s tk" x="215.1" y="368.7">10<tspan class="sp" dy="-5">-2</tspan></text>
<text class="s tk" x="215.1" y="387.4">10<tspan class="sp" dy="-5">-3</tspan></text>
<text class="s tk" x="215.1" y="406.1">10<tspan class="sp" dy="-5">-4</tspan></text>
<text class="s xc xt" x="218" y="412.8">0</text>
<text class="s xc xt" x="248.93" y="412.8">200</text>
<text class="s xc xt" x="279.85" y="412.8">400</text>
<text class="s xc xt" x="310.77" y="412.8">800</text>
<text class="s xc xt" x="341.7" y="412.8">1200</text>
<text class="s xc" x="279.85" y="424.2">Training epochs</text>
<text class="s yl" transform="translate(195.2 353.85) rotate(-90)">Loss</text>
<path d="M266.4 317.1h11.7" stroke="#000" stroke-width="1.4"/>
<path d="M266.4 328.4h11.7" stroke="#3030b4" stroke-width="1.3" stroke-dasharray="5 3.8"/>
<text class="s lg" x="284" y="320.4">Training loss</text>
<text class="s lg" x="284" y="331.95">Test loss</text>
<path class="g" d="M416.8 307.1V400.6M447.6 307.1V400.6M478.4 307.1V400.6M386 325.8H509.2M386 344.5H509.2M386 363.2H509.2M386 381.9H509.2"/>
<path class="tr" d="M386.0 330.00 L386.2 347.55 L386.4 363.76 L386.6 374.49 L386.8 377.11 L387.0 378.14 L387.2 378.97 L387.4 379.62 L387.6 380.14 L387.8 380.55 L388.0 380.90 L388.5 381.70 L389.0 382.54 L389.5 383.29 L390.0 383.96 L390.5 384.54 L391.0 385.05 L391.5 385.49 L392.0 385.87 L392.5 386.21 L393.0 386.53 L393.5 386.81 L394.0 387.08 L394.5 387.32 L395.0 387.54 L395.5 387.74 L396.0 387.93 L396.5 388.10 L397.0 388.26 L397.5 388.42 L398.0 388.56 L399.0 388.83 L400.0 389.08 L401.0 389.28 L402.0 389.46 L403.0 389.60 L404.0 389.73 L405.0 389.85 L406.0 389.96 L407.0 390.06 L408.0 390.15 L409.0 390.24 L410.0 390.32 L411.0 390.40 L412.0 390.47 L413.0 390.54 L414.0 390.61 L415.0 390.68 L416.0 390.75 L417.0 390.81 L418.0 390.87 L419.0 390.93 L420.0 390.99 L421.0 391.04 L422.0 391.09 L423.0 391.14 L424.0 391.19 L425.0 391.24 L426.0 391.29 L428.5 391.40 L431.0 391.49 L433.5 391.58 L436.0 391.66 L438.5 391.74 L441.0 391.81 L443.5 391.87 L446.0 391.92 L448.5 391.97 L451.0 392.02 L453.5 392.07 L456.0 392.12 L458.5 392.17 L461.0 392.22 L463.5 392.27 L466.0 392.31 L468.5 392.36 L471.0 392.40 L473.5 392.44 L476.0 392.48 L478.5 392.52 L481.0 392.56 L483.5 392.59 L486.0 392.63 L488.5 392.66 L491.0 392.68 L493.5 392.71 L496.0 392.73 L498.5 392.75 L501.0 392.77 L503.5 392.78 L506.0 392.79 L508.5 392.80 L509.2 392.80"/>
<path class="te" stroke-width="1.3" stroke-dasharray="3 1.8" d="M386.0 326.25 L386.2 343.64 L386.4 359.69 L386.6 370.40 L386.8 373.23 L387.0 374.49 L387.2 375.52 L387.4 376.34 L387.6 376.99 L387.8 377.52 L388.0 377.94 L388.5 378.80 L389.0 379.58 L389.5 380.24 L390.0 380.79 L390.5 381.27 L391.0 381.68 L391.5 382.04 L392.0 382.36 L392.5 382.67 L393.0 382.96 L393.5 383.23 L394.0 383.47 L394.5 383.70 L395.0 383.90 L395.5 384.09 L396.0 384.25 L396.5 384.40 L397.0 384.53 L397.5 384.65 L398.0 384.77 L399.0 384.97 L400.0 385.15 L401.0 385.31 L402.0 385.46 L403.0 385.60 L404.0 385.73 L405.0 385.86 L406.0 385.99 L407.0 386.11 L408.0 386.23 L409.0 386.33 L410.0 386.43 L411.0 386.52 L412.0 386.59 L413.0 386.66 L414.0 386.71 L415.0 386.75 L416.0 386.79 L417.0 386.83 L418.0 386.87 L419.0 386.90 L420.0 386.93 L421.0 386.96 L422.0 386.99 L423.0 387.01 L424.0 387.03 L425.0 387.06 L426.0 387.08 L428.5 387.14 L431.0 387.20 L433.5 387.26 L436.0 387.32 L438.5 387.38 L441.0 387.43 L443.5 387.48 L446.0 387.51 L448.5 387.54 L451.0 387.58 L453.5 387.61 L456.0 387.64 L458.5 387.66 L461.0 387.69 L463.5 387.72 L466.0 387.75 L468.5 387.77 L471.0 387.80 L473.5 387.82 L476.0 387.84 L478.5 387.86 L481.0 387.88 L483.5 387.90 L486.0 387.92 L488.5 387.94 L491.0 387.95 L493.5 387.96 L496.0 387.97 L498.5 387.98 L501.0 387.99 L503.5 387.99 L506.0 388.00 L508.5 388.00 L509.2 388.00"/>
<rect x="432" y="307.1" width="77.2" height="26" fill="#fff"/>
<rect class="ax" x="386" y="307.1" width="123.2" height="93.5"/>
<path class="tm" d="M416.8 400.6v-1.3M416.8 307.1v1.3M447.6 400.6v-1.3M447.6 307.1v1.3M478.4 400.6v-1.3M478.4 307.1v1.3M386 325.8h1.3M509.2 325.8h-1.3M386 344.5h1.3M509.2 344.5h-1.3M386 363.2h1.3M509.2 363.2h-1.3M386 381.9h1.3M509.2 381.9h-1.3"/>
<text class="s tk" x="383.1" y="312.6">10<tspan class="sp" dy="-5">1</tspan></text>
<text class="s tk" x="383.1" y="331.3">10<tspan class="sp" dy="-5">0</tspan></text>
<text class="s tk" x="383.1" y="350">10<tspan class="sp" dy="-5">-1</tspan></text>
<text class="s tk" x="383.1" y="368.7">10<tspan class="sp" dy="-5">-2</tspan></text>
<text class="s tk" x="383.1" y="387.4">10<tspan class="sp" dy="-5">-3</tspan></text>
<text class="s tk" x="383.1" y="406.1">10<tspan class="sp" dy="-5">-4</tspan></text>
<text class="s xc xt" x="386" y="412.8">0</text>
<text class="s xc xt" x="416.8" y="412.8">200</text>
<text class="s xc xt" x="447.6" y="412.8">400</text>
<text class="s xc xt" x="478.4" y="412.8">800</text>
<text class="s xc xt" x="509.2" y="412.8">1200</text>
<text class="s xc" x="447.6" y="424.2">Training epochs</text>
<text class="s yl" transform="translate(363.2 353.85) rotate(-90)">Loss</text>
<path d="M434.4 317.1h11.7" stroke="#000" stroke-width="1.4"/>
<path d="M434.4 328.4h11.7" stroke="#3030b4" stroke-width="1.3" stroke-dasharray="5 3.8"/>
<text class="s lg" x="452" y="320.4">Training loss</text>
<text class="s lg" x="452" y="331.95">Test loss</text>
<text class="s b rl" transform="translate(10.7 493.35) rotate(-90)"><tspan font-style="italic">r</tspan> = 8</text>
<path class="g" d="M81.3 438.6V532.3M112.2 438.6V532.3M143.1 438.6V532.3M50.4 457.34H174M50.4 476.08H174M50.4 494.82H174M50.4 513.56H174"/>
<path class="tr" d="M50.4 470.00 L50.6 477.98 L50.8 486.09 L51.0 492.97 L51.2 497.31 L51.4 498.34 L51.6 498.79 L51.8 499.19 L52.0 499.55 L52.2 499.87 L52.4 500.14 L52.9 500.69 L53.4 501.08 L53.9 501.37 L54.4 501.61 L54.9 501.85 L55.4 502.10 L55.9 502.33 L56.4 502.54 L56.9 502.74 L57.4 502.92 L57.9 503.08 L58.4 503.23 L58.9 503.35 L59.4 503.45 L59.9 503.53 L60.4 503.59 L60.9 503.63 L61.4 503.67 L61.9 503.71 L62.4 503.74 L63.4 503.80 L64.4 503.85 L65.4 503.90 L66.4 503.94 L67.4 503.97 L68.4 504.00 L69.4 504.03 L70.4 504.06 L71.4 504.08 L72.4 504.11 L73.4 504.13 L74.4 504.15 L75.4 504.17 L76.4 504.19 L77.4 504.21 L78.4 504.23 L79.4 504.24 L80.4 504.26 L81.4 504.27 L82.4 504.29 L83.4 504.30 L84.4 504.32 L85.4 504.33 L86.4 504.35 L87.4 504.36 L88.4 504.38 L89.4 504.40 L90.4 504.42 L92.9 504.47 L95.4 504.52 L97.9 504.58 L100.4 504.63 L102.9 504.69 L105.4 504.74 L107.9 504.78 L110.4 504.82 L112.9 504.86 L115.4 504.90 L117.9 504.94 L120.4 504.98 L122.9 505.02 L125.4 505.06 L127.9 505.09 L130.4 505.13 L132.9 505.16 L135.4 505.20 L137.9 505.23 L140.4 505.27 L142.9 505.30 L145.4 505.33 L147.9 505.36 L150.4 505.39 L152.9 505.42 L155.4 505.44 L157.9 505.47 L160.4 505.49 L162.9 505.52 L165.4 505.54 L167.9 505.56 L170.4 505.58 L172.9 505.59 L174.0 505.60"/>
<path class="te" stroke-width="1.5" stroke-dasharray="1.8 0.5" d="M50.4 465.80 L50.6 472.79 L50.8 479.92 L51.0 485.93 L51.2 489.62 L51.4 490.28 L51.6 490.42 L51.8 490.55 L52.0 490.65 L52.2 490.74 L52.4 490.81 L52.9 490.94 L53.4 491.04 L53.9 491.13 L54.4 491.25 L54.9 491.45 L55.4 491.71 L55.9 492.02 L56.4 492.38 L56.9 492.75 L57.4 493.15 L57.9 493.55 L58.4 493.94 L58.9 494.30 L59.4 494.64 L59.9 494.93 L60.4 495.16 L60.9 495.35 L61.4 495.52 L61.9 495.68 L62.4 495.83 L63.4 496.10 L64.4 496.33 L65.4 496.54 L66.4 496.72 L67.4 496.88 L68.4 497.04 L69.4 497.18 L70.4 497.32 L71.4 497.45 L72.4 497.57 L73.4 497.68 L74.4 497.78 L75.4 497.88 L76.4 497.98 L77.4 498.07 L78.4 498.15 L79.4 498.23 L80.4 498.31 L81.4 498.38 L82.4 498.46 L83.4 498.52 L84.4 498.59 L85.4 498.66 L86.4 498.72 L87.4 498.78 L88.4 498.84 L89.4 498.89 L90.4 498.95 L92.9 499.08 L95.4 499.21 L97.9 499.34 L100.4 499.47 L102.9 499.59 L105.4 499.70 L107.9 499.77 L110.4 499.83 L112.9 499.88 L115.4 499.92 L117.9 499.97 L120.4 500.01 L122.9 500.05 L125.4 500.09 L127.9 500.13 L130.4 500.17 L132.9 500.20 L135.4 500.24 L137.9 500.27 L140.4 500.30 L142.9 500.33 L145.4 500.35 L147.9 500.38 L150.4 500.40 L152.9 500.42 L155.4 500.44 L157.9 500.45 L160.4 500.47 L162.9 500.48 L165.4 500.49 L167.9 500.49 L170.4 500.50 L172.9 500.50 L174.0 500.50"/>
<rect x="96.4" y="438.6" width="77.6" height="26" fill="#fff"/>
<rect class="ax" x="50.4" y="438.6" width="123.6" height="93.7"/>
<path class="tm" d="M81.3 532.3v-1.3M81.3 438.6v1.3M112.2 532.3v-1.3M112.2 438.6v1.3M143.1 532.3v-1.3M143.1 438.6v1.3M50.4 457.34h1.3M174 457.34h-1.3M50.4 476.08h1.3M174 476.08h-1.3M50.4 494.82h1.3M174 494.82h-1.3M50.4 513.56h1.3M174 513.56h-1.3"/>
<text class="s tk" x="47.5" y="444.1">10<tspan class="sp" dy="-5">1</tspan></text>
<text class="s tk" x="47.5" y="462.84">10<tspan class="sp" dy="-5">0</tspan></text>
<text class="s tk" x="47.5" y="481.58">10<tspan class="sp" dy="-5">-1</tspan></text>
<text class="s tk" x="47.5" y="500.32">10<tspan class="sp" dy="-5">-2</tspan></text>
<text class="s tk" x="47.5" y="519.06">10<tspan class="sp" dy="-5">-3</tspan></text>
<text class="s tk" x="47.5" y="537.8">10<tspan class="sp" dy="-5">-4</tspan></text>
<text class="s xc xt" x="50.4" y="544.5">0</text>
<text class="s xc xt" x="81.3" y="544.5">200</text>
<text class="s xc xt" x="112.2" y="544.5">400</text>
<text class="s xc xt" x="143.1" y="544.5">800</text>
<text class="s xc xt" x="174" y="544.5">1200</text>
<text class="s xc" x="112.2" y="555.9">Training epochs</text>
<text class="s yl" transform="translate(27.6 485.45) rotate(-90)">Loss</text>
<path d="M98.8 448.6h11.7" stroke="#000" stroke-width="1.4"/>
<path d="M98.8 459.9h11.7" stroke="#3030b4" stroke-width="1.3" stroke-dasharray="5 3.8"/>
<text class="s lg" x="116.4" y="451.9">Training loss</text>
<text class="s lg" x="116.4" y="463.45">Test loss</text>
<path class="g" d="M248.93 438.6V532.3M279.85 438.6V532.3M310.77 438.6V532.3M218 457.34H341.7M218 476.08H341.7M218 494.82H341.7M218 513.56H341.7"/>
<path class="tr" d="M218.0 468.00 L218.2 494.28 L218.4 508.80 L218.6 509.75 L218.8 510.47 L219.0 511.00 L219.2 511.38 L219.4 511.66 L219.6 511.88 L219.8 512.09 L220.0 512.32 L220.5 512.86 L221.0 513.31 L221.5 513.70 L222.0 514.01 L222.5 514.27 L223.0 514.48 L223.5 514.66 L224.0 514.82 L224.5 514.97 L225.0 515.09 L225.5 515.21 L226.0 515.30 L226.5 515.38 L227.0 515.46 L227.5 515.53 L228.0 515.60 L228.5 515.66 L229.0 515.72 L229.5 515.78 L230.0 515.83 L231.0 515.94 L232.0 516.03 L233.0 516.11 L234.0 516.18 L235.0 516.24 L236.0 516.29 L237.0 516.33 L238.0 516.37 L239.0 516.41 L240.0 516.44 L241.0 516.47 L242.0 516.49 L243.0 516.52 L244.0 516.54 L245.0 516.56 L246.0 516.58 L247.0 516.61 L248.0 516.63 L249.0 516.65 L250.0 516.68 L251.0 516.71 L252.0 516.74 L253.0 516.77 L254.0 516.80 L255.0 516.84 L256.0 516.87 L257.0 516.91 L258.0 516.94 L260.5 517.03 L263.0 517.11 L265.5 517.17 L268.0 517.22 L270.5 517.26 L273.0 517.30 L275.5 517.35 L278.0 517.39 L280.5 517.43 L283.0 517.47 L285.5 517.51 L288.0 517.55 L290.5 517.58 L293.0 517.62 L295.5 517.65 L298.0 517.69 L300.5 517.72 L303.0 517.75 L305.5 517.78 L308.0 517.81 L310.5 517.83 L313.0 517.86 L315.5 517.88 L318.0 517.90 L320.5 517.92 L323.0 517.94 L325.5 517.95 L328.0 517.97 L330.5 517.98 L333.0 517.99 L335.5 517.99 L338.0 518.00 L340.5 518.00 L341.7 518.00"/>
<path class="te" stroke-width="1.3" stroke-dasharray="2.7 1.6" d="M218.0 464.75 L218.2 477.41 L218.4 489.64 L218.6 499.70 L218.8 505.84 L219.0 507.17 L219.2 507.63 L219.4 508.01 L219.6 508.32 L219.8 508.57 L220.0 508.77 L220.5 509.13 L221.0 509.41 L221.5 509.66 L222.0 509.88 L222.5 510.07 L223.0 510.23 L223.5 510.36 L224.0 510.47 L224.5 510.57 L225.0 510.65 L225.5 510.72 L226.0 510.78 L226.5 510.84 L227.0 510.90 L227.5 510.95 L228.0 511.00 L228.5 511.04 L229.0 511.08 L229.5 511.12 L230.0 511.16 L231.0 511.22 L232.0 511.29 L233.0 511.35 L234.0 511.40 L235.0 511.46 L236.0 511.51 L237.0 511.56 L238.0 511.60 L239.0 511.64 L240.0 511.69 L241.0 511.72 L242.0 511.76 L243.0 511.80 L244.0 511.84 L245.0 511.87 L246.0 511.91 L247.0 511.94 L248.0 511.98 L249.0 512.01 L250.0 512.05 L251.0 512.08 L252.0 512.11 L253.0 512.14 L254.0 512.18 L255.0 512.21 L256.0 512.24 L257.0 512.27 L258.0 512.29 L260.5 512.36 L263.0 512.42 L265.5 512.47 L268.0 512.52 L270.5 512.56 L273.0 512.60 L275.5 512.64 L278.0 512.68 L280.5 512.72 L283.0 512.76 L285.5 512.80 L288.0 512.84 L290.5 512.87 L293.0 512.91 L295.5 512.95 L298.0 512.98 L300.5 513.01 L303.0 513.04 L305.5 513.07 L308.0 513.10 L310.5 513.13 L313.0 513.15 L315.5 513.17 L318.0 513.20 L320.5 513.22 L323.0 513.23 L325.5 513.25 L328.0 513.26 L330.5 513.28 L333.0 513.29 L335.5 513.29 L338.0 513.30 L340.5 513.30 L341.7 513.30"/>
<rect x="264" y="438.6" width="77.7" height="26" fill="#fff"/>
<rect class="ax" x="218" y="438.6" width="123.7" height="93.7"/>
<path class="tm" d="M248.93 532.3v-1.3M248.93 438.6v1.3M279.85 532.3v-1.3M279.85 438.6v1.3M310.77 532.3v-1.3M310.77 438.6v1.3M218 457.34h1.3M341.7 457.34h-1.3M218 476.08h1.3M341.7 476.08h-1.3M218 494.82h1.3M341.7 494.82h-1.3M218 513.56h1.3M341.7 513.56h-1.3"/>
<text class="s tk" x="215.1" y="444.1">10<tspan class="sp" dy="-5">1</tspan></text>
<text class="s tk" x="215.1" y="462.84">10<tspan class="sp" dy="-5">0</tspan></text>
<text class="s tk" x="215.1" y="481.58">10<tspan class="sp" dy="-5">-1</tspan></text>
<text class="s tk" x="215.1" y="500.32">10<tspan class="sp" dy="-5">-2</tspan></text>
<text class="s tk" x="215.1" y="519.06">10<tspan class="sp" dy="-5">-3</tspan></text>
<text class="s tk" x="215.1" y="537.8">10<tspan class="sp" dy="-5">-4</tspan></text>
<text class="s xc xt" x="218" y="544.5">0</text>
<text class="s xc xt" x="248.93" y="544.5">200</text>
<text class="s xc xt" x="279.85" y="544.5">400</text>
<text class="s xc xt" x="310.77" y="544.5">800</text>
<text class="s xc xt" x="341.7" y="544.5">1200</text>
<text class="s xc" x="279.85" y="555.9">Training epochs</text>
<text class="s yl" transform="translate(195.2 485.45) rotate(-90)">Loss</text>
<path d="M266.4 448.6h11.7" stroke="#000" stroke-width="1.4"/>
<path d="M266.4 459.9h11.7" stroke="#3030b4" stroke-width="1.3" stroke-dasharray="5 3.8"/>
<text class="s lg" x="284" y="451.9">Training loss</text>
<text class="s lg" x="284" y="463.45">Test loss</text>
<path class="g" d="M416.8 438.6V532.3M447.6 438.6V532.3M478.4 438.6V532.3M386 457.34H509.2M386 476.08H509.2M386 494.82H509.2M386 513.56H509.2"/>
<path class="tr" d="M386.0 465.00 L386.2 492.96 L386.4 508.80 L386.6 509.47 L386.8 510.03 L387.0 510.49 L387.2 510.86 L387.4 511.16 L387.6 511.40 L387.8 511.59 L388.0 511.74 L388.5 512.03 L389.0 512.32 L389.5 512.60 L390.0 512.85 L390.5 513.06 L391.0 513.25 L391.5 513.40 L392.0 513.54 L392.5 513.66 L393.0 513.76 L393.5 513.86 L394.0 513.95 L394.5 514.03 L395.0 514.11 L395.5 514.18 L396.0 514.25 L396.5 514.31 L397.0 514.37 L397.5 514.42 L398.0 514.47 L399.0 514.57 L400.0 514.65 L401.0 514.73 L402.0 514.80 L403.0 514.87 L404.0 514.93 L405.0 514.99 L406.0 515.05 L407.0 515.10 L408.0 515.15 L409.0 515.20 L410.0 515.24 L411.0 515.29 L412.0 515.33 L413.0 515.37 L414.0 515.41 L415.0 515.45 L416.0 515.48 L417.0 515.52 L418.0 515.55 L419.0 515.59 L420.0 515.62 L421.0 515.65 L422.0 515.68 L423.0 515.71 L424.0 515.74 L425.0 515.77 L426.0 515.79 L428.5 515.86 L431.0 515.92 L433.5 515.97 L436.0 516.02 L438.5 516.07 L441.0 516.12 L443.5 516.16 L446.0 516.21 L448.5 516.26 L451.0 516.31 L453.5 516.35 L456.0 516.40 L458.5 516.44 L461.0 516.49 L463.5 516.53 L466.0 516.57 L468.5 516.61 L471.0 516.65 L473.5 516.68 L476.0 516.72 L478.5 516.75 L481.0 516.79 L483.5 516.82 L486.0 516.84 L488.5 516.87 L491.0 516.89 L493.5 516.92 L496.0 516.94 L498.5 516.95 L501.0 516.97 L503.5 516.98 L506.0 516.99 L508.5 517.00 L509.2 517.00"/>
<path class="te" stroke-width="1.3" stroke-dasharray="2.8 1.7" d="M386.0 461.00 L386.2 474.48 L386.4 488.00 L386.6 499.35 L386.8 506.28 L387.0 507.59 L387.2 507.94 L387.4 508.24 L387.6 508.50 L387.8 508.73 L388.0 508.93 L388.5 509.30 L389.0 509.54 L389.5 509.71 L390.0 509.86 L390.5 509.99 L391.0 510.11 L391.5 510.21 L392.0 510.30 L392.5 510.38 L393.0 510.45 L393.5 510.50 L394.0 510.55 L394.5 510.59 L395.0 510.63 L395.5 510.66 L396.0 510.69 L396.5 510.72 L397.0 510.75 L397.5 510.77 L398.0 510.79 L399.0 510.84 L400.0 510.87 L401.0 510.91 L402.0 510.94 L403.0 510.97 L404.0 510.99 L405.0 511.02 L406.0 511.05 L407.0 511.07 L408.0 511.09 L409.0 511.11 L410.0 511.13 L411.0 511.15 L412.0 511.17 L413.0 511.19 L414.0 511.21 L415.0 511.23 L416.0 511.24 L417.0 511.26 L418.0 511.28 L419.0 511.31 L420.0 511.33 L421.0 511.36 L422.0 511.38 L423.0 511.41 L424.0 511.43 L425.0 511.46 L426.0 511.49 L428.5 511.56 L431.0 511.62 L433.5 511.67 L436.0 511.72 L438.5 511.76 L441.0 511.80 L443.5 511.84 L446.0 511.88 L448.5 511.92 L451.0 511.96 L453.5 511.99 L456.0 512.03 L458.5 512.07 L461.0 512.11 L463.5 512.14 L466.0 512.17 L468.5 512.21 L471.0 512.24 L473.5 512.27 L476.0 512.30 L478.5 512.32 L481.0 512.35 L483.5 512.37 L486.0 512.40 L488.5 512.42 L491.0 512.43 L493.5 512.45 L496.0 512.46 L498.5 512.48 L501.0 512.49 L503.5 512.49 L506.0 512.50 L508.5 512.50 L509.2 512.50"/>
<rect x="432" y="438.6" width="77.2" height="26" fill="#fff"/>
<rect class="ax" x="386" y="438.6" width="123.2" height="93.7"/>
<path class="tm" d="M416.8 532.3v-1.3M416.8 438.6v1.3M447.6 532.3v-1.3M447.6 438.6v1.3M478.4 532.3v-1.3M478.4 438.6v1.3M386 457.34h1.3M509.2 457.34h-1.3M386 476.08h1.3M509.2 476.08h-1.3M386 494.82h1.3M509.2 494.82h-1.3M386 513.56h1.3M509.2 513.56h-1.3"/>
<text class="s tk" x="383.1" y="444.1">10<tspan class="sp" dy="-5">1</tspan></text>
<text class="s tk" x="383.1" y="462.84">10<tspan class="sp" dy="-5">0</tspan></text>
<text class="s tk" x="383.1" y="481.58">10<tspan class="sp" dy="-5">-1</tspan></text>
<text class="s tk" x="383.1" y="500.32">10<tspan class="sp" dy="-5">-2</tspan></text>
<text class="s tk" x="383.1" y="519.06">10<tspan class="sp" dy="-5">-3</tspan></text>
<text class="s tk" x="383.1" y="537.8">10<tspan class="sp" dy="-5">-4</tspan></text>
<text class="s xc xt" x="386" y="544.5">0</text>
<text class="s xc xt" x="416.8" y="544.5">200</text>
<text class="s xc xt" x="447.6" y="544.5">400</text>
<text class="s xc xt" x="478.4" y="544.5">800</text>
<text class="s xc xt" x="509.2" y="544.5">1200</text>
<text class="s xc" x="447.6" y="555.9">Training epochs</text>
<text class="s yl" transform="translate(363.2 485.45) rotate(-90)">Loss</text>
<path d="M434.4 448.6h11.7" stroke="#000" stroke-width="1.4"/>
<path d="M434.4 459.9h11.7" stroke="#3030b4" stroke-width="1.3" stroke-dasharray="5 3.8"/>
<text class="s lg" x="452" y="451.9">Training loss</text>
<text class="s lg" x="452" y="463.45">Test loss</text>
<text class="s b rl" transform="translate(10.7 647.75) rotate(-90)"><tspan font-style="italic">r</tspan> = 4</text>
<path class="g" d="M81.3 593.2V686.5M112.2 593.2V686.5M143.1 593.2V686.5M50.4 608.75H174M50.4 624.3H174M50.4 639.85H174M50.4 655.4H174M50.4 670.95H174"/>
<path class="tr" d="M50.4 620.00 L50.6 627.92 L50.8 635.69 L51.0 642.16 L51.2 646.18 L51.4 647.12 L51.6 647.50 L51.8 647.84 L52.0 648.12 L52.2 648.36 L52.4 648.55 L52.9 648.91 L53.4 649.13 L53.9 649.30 L54.4 649.45 L54.9 649.59 L55.4 649.71 L55.9 649.82 L56.4 649.92 L56.9 650.01 L57.4 650.09 L57.9 650.16 L58.4 650.22 L58.9 650.27 L59.4 650.32 L59.9 650.36 L60.4 650.39 L60.9 650.43 L61.4 650.46 L61.9 650.48 L62.4 650.51 L63.4 650.56 L64.4 650.61 L65.4 650.66 L66.4 650.70 L67.4 650.73 L68.4 650.77 L69.4 650.80 L70.4 650.83 L71.4 650.85 L72.4 650.88 L73.4 650.90 L74.4 650.92 L75.4 650.95 L76.4 650.97 L77.4 650.99 L78.4 651.01 L79.4 651.04 L80.4 651.06 L81.4 651.08 L82.4 651.10 L83.4 651.12 L84.4 651.14 L85.4 651.16 L86.4 651.18 L87.4 651.20 L88.4 651.21 L89.4 651.23 L90.4 651.25 L92.9 651.29 L95.4 651.33 L97.9 651.36 L100.4 651.40 L102.9 651.43 L105.4 651.46 L107.9 651.49 L110.4 651.52 L112.9 651.54 L115.4 651.57 L117.9 651.60 L120.4 651.62 L122.9 651.65 L125.4 651.67 L127.9 651.70 L130.4 651.72 L132.9 651.75 L135.4 651.77 L137.9 651.79 L140.4 651.81 L142.9 651.83 L145.4 651.85 L147.9 651.87 L150.4 651.89 L152.9 651.91 L155.4 651.92 L157.9 651.94 L160.4 651.95 L162.9 651.96 L165.4 651.97 L167.9 651.98 L170.4 651.99 L172.9 652.00 L174.0 652.00"/>
<path class="te" stroke-width="1.5" stroke-dasharray="1.8 0.5" d="M50.4 616.00 L50.6 622.31 L50.8 628.71 L51.0 634.16 L51.2 637.63 L51.4 638.55 L51.6 639.01 L51.8 639.43 L52.0 639.81 L52.2 640.14 L52.4 640.45 L52.9 641.06 L53.4 641.50 L53.9 641.79 L54.4 641.99 L54.9 642.12 L55.4 642.23 L55.9 642.34 L56.4 642.43 L56.9 642.51 L57.4 642.59 L57.9 642.65 L58.4 642.70 L58.9 642.74 L59.4 642.77 L59.9 642.79 L60.4 642.80 L60.9 642.80 L61.4 642.79 L61.9 642.78 L62.4 642.77 L63.4 642.72 L64.4 642.67 L65.4 642.60 L66.4 642.53 L67.4 642.45 L68.4 642.37 L69.4 642.29 L70.4 642.22 L71.4 642.14 L72.4 642.08 L73.4 642.02 L74.4 641.95 L75.4 641.88 L76.4 641.80 L77.4 641.73 L78.4 641.66 L79.4 641.60 L80.4 641.54 L81.4 641.49 L82.4 641.44 L83.4 641.41 L84.4 641.38 L85.4 641.36 L86.4 641.34 L87.4 641.32 L88.4 641.30 L89.4 641.29 L90.4 641.27 L92.9 641.24 L95.4 641.20 L97.9 641.14 L100.4 641.09 L102.9 641.03 L105.4 640.97 L107.9 640.92 L110.4 640.87 L112.9 640.83 L115.4 640.78 L117.9 640.74 L120.4 640.70 L122.9 640.66 L125.4 640.62 L127.9 640.58 L130.4 640.55 L132.9 640.51 L135.4 640.47 L137.9 640.43 L140.4 640.39 L142.9 640.36 L145.4 640.32 L147.9 640.28 L150.4 640.24 L152.9 640.20 L155.4 640.17 L157.9 640.13 L160.4 640.09 L162.9 640.06 L165.4 640.02 L167.9 639.99 L170.4 639.95 L172.9 639.92 L174.0 639.90"/>
<rect x="96.4" y="593.2" width="77.6" height="26" fill="#fff"/>
<rect class="ax" x="50.4" y="593.2" width="123.6" height="93.3"/>
<path class="tm" d="M81.3 686.5v-1.3M81.3 593.2v1.3M112.2 686.5v-1.3M112.2 593.2v1.3M143.1 686.5v-1.3M143.1 593.2v1.3M50.4 608.75h1.3M174 608.75h-1.3M50.4 624.3h1.3M174 624.3h-1.3M50.4 639.85h1.3M174 639.85h-1.3M50.4 655.4h1.3M174 655.4h-1.3M50.4 670.95h1.3M174 670.95h-1.3"/>
<text class="s tk" x="47.5" y="598.7">10<tspan class="sp" dy="-5">1</tspan></text>
<text class="s tk" x="47.5" y="614.25">10<tspan class="sp" dy="-5">0</tspan></text>
<text class="s tk" x="47.5" y="629.8">10<tspan class="sp" dy="-5">-1</tspan></text>
<text class="s tk" x="47.5" y="645.35">10<tspan class="sp" dy="-5">-2</tspan></text>
<text class="s tk" x="47.5" y="660.9">10<tspan class="sp" dy="-5">-3</tspan></text>
<text class="s tk" x="47.5" y="676.45">10<tspan class="sp" dy="-5">-4</tspan></text>
<text class="s tk" x="47.5" y="692">10<tspan class="sp" dy="-5">-5</tspan></text>
<text class="s xc xt" x="50.4" y="698.7">0</text>
<text class="s xc xt" x="81.3" y="698.7">200</text>
<text class="s xc xt" x="112.2" y="698.7">400</text>
<text class="s xc xt" x="143.1" y="698.7">800</text>
<text class="s xc xt" x="174" y="698.7">1200</text>
<text class="s xc" x="112.2" y="710.1">Training epochs</text>
<text class="s yl" transform="translate(27.6 639.85) rotate(-90)">Loss</text>
<path d="M98.8 603.2h11.7" stroke="#000" stroke-width="1.4"/>
<path d="M98.8 614.5h11.7" stroke="#3030b4" stroke-width="1.3" stroke-dasharray="5 3.8"/>
<text class="s lg" x="116.4" y="606.5">Training loss</text>
<text class="s lg" x="116.4" y="618.05">Test loss</text>
<path class="g" d="M248.93 593.2V686.5M279.85 593.2V686.5M310.77 593.2V686.5M218 608.75H341.7M218 624.3H341.7M218 639.85H341.7M218 655.4H341.7M218 670.95H341.7"/>
<path d="M230.5 666.3V650.4" stroke="#000" stroke-width="1.2"/>
<path d="M237.5 667.3V651.2" stroke="#000" stroke-width="1.2"/>
<path class="tr" d="M218.0 615.00 L218.2 643.92 L218.4 659.80 L218.6 660.62 L218.8 661.24 L219.0 661.69 L219.2 662.02 L219.4 662.26 L219.6 662.44 L219.8 662.61 L220.0 662.79 L220.5 663.21 L221.0 663.54 L221.5 663.82 L222.0 664.06 L222.5 664.28 L223.0 664.48 L223.5 664.68 L224.0 664.86 L224.5 665.03 L225.0 665.18 L225.5 665.32 L226.0 665.46 L226.5 665.58 L227.0 665.69 L227.5 665.79 L228.0 665.88 L228.5 665.97 L229.0 666.05 L229.5 666.13 L230.0 666.21 L231.0 666.39 L232.0 666.58 L233.0 666.77 L234.0 666.95 L235.0 667.12 L236.0 667.27 L237.0 667.40 L238.0 667.53 L239.0 667.65 L240.0 667.76 L241.0 667.87 L242.0 667.97 L243.0 668.06 L244.0 668.15 L245.0 668.24 L246.0 668.32 L247.0 668.39 L248.0 668.46 L249.0 668.52 L250.0 668.58 L251.0 668.64 L252.0 668.70 L253.0 668.75 L254.0 668.81 L255.0 668.87 L256.0 668.93 L257.0 669.00 L258.0 669.06 L260.5 669.23 L263.0 669.39 L265.5 669.53 L268.0 669.64 L270.5 669.73 L273.0 669.82 L275.5 669.90 L278.0 669.97 L280.5 670.04 L283.0 670.11 L285.5 670.17 L288.0 670.23 L290.5 670.29 L293.0 670.34 L295.5 670.40 L298.0 670.46 L300.5 670.51 L303.0 670.57 L305.5 670.62 L308.0 670.68 L310.5 670.73 L313.0 670.78 L315.5 670.84 L318.0 670.89 L320.5 670.93 L323.0 670.98 L325.5 671.03 L328.0 671.08 L330.5 671.12 L333.0 671.16 L335.5 671.20 L338.0 671.24 L340.5 671.28 L341.7 671.30"/>
<path class="te" stroke-width="1.5" stroke-dasharray="1.8 0.5" d="M218.0 611.00 L218.2 625.67 L218.4 638.78 L218.6 645.00 L218.8 645.92 L219.0 646.70 L219.2 647.34 L219.4 647.88 L219.6 648.31 L219.8 648.66 L220.0 648.94 L220.5 649.45 L221.0 649.86 L221.5 650.22 L222.0 650.53 L222.5 650.78 L223.0 651.00 L223.5 651.19 L224.0 651.36 L224.5 651.53 L225.0 651.70 L225.5 651.88 L226.0 652.06 L226.5 652.23 L227.0 652.38 L227.5 652.49 L228.0 652.57 L228.5 652.60 L229.0 652.54 L229.5 652.35 L230.0 651.89 L231.0 651.28 L232.0 652.71 L233.0 653.06 L234.0 653.14 L235.0 653.18 L236.0 653.20 L237.0 651.79 L238.0 652.80 L239.0 653.24 L240.0 653.26 L241.0 653.28 L242.0 653.30 L243.0 653.34 L244.0 653.39 L245.0 653.45 L246.0 653.51 L247.0 653.58 L248.0 653.64 L249.0 653.70 L250.0 653.76 L251.0 653.81 L252.0 653.86 L253.0 653.91 L254.0 653.96 L255.0 654.01 L256.0 654.06 L257.0 654.11 L258.0 654.15 L260.5 654.26 L263.0 654.36 L265.5 654.45 L268.0 654.53 L270.5 654.60 L273.0 654.66 L275.5 654.73 L278.0 654.78 L280.5 654.84 L283.0 654.89 L285.5 654.94 L288.0 654.99 L290.5 655.03 L293.0 655.08 L295.5 655.12 L298.0 655.17 L300.5 655.21 L303.0 655.25 L305.5 655.29 L308.0 655.33 L310.5 655.38 L313.0 655.42 L315.5 655.45 L318.0 655.49 L320.5 655.53 L323.0 655.57 L325.5 655.60 L328.0 655.64 L330.5 655.67 L333.0 655.70 L335.5 655.73 L338.0 655.76 L340.5 655.79 L341.7 655.80"/>
<rect x="264" y="593.2" width="77.7" height="26" fill="#fff"/>
<rect class="ax" x="218" y="593.2" width="123.7" height="93.3"/>
<path class="tm" d="M248.93 686.5v-1.3M248.93 593.2v1.3M279.85 686.5v-1.3M279.85 593.2v1.3M310.77 686.5v-1.3M310.77 593.2v1.3M218 608.75h1.3M341.7 608.75h-1.3M218 624.3h1.3M341.7 624.3h-1.3M218 639.85h1.3M341.7 639.85h-1.3M218 655.4h1.3M341.7 655.4h-1.3M218 670.95h1.3M341.7 670.95h-1.3"/>
<text class="s tk" x="215.1" y="598.7">10<tspan class="sp" dy="-5">1</tspan></text>
<text class="s tk" x="215.1" y="614.25">10<tspan class="sp" dy="-5">0</tspan></text>
<text class="s tk" x="215.1" y="629.8">10<tspan class="sp" dy="-5">-1</tspan></text>
<text class="s tk" x="215.1" y="645.35">10<tspan class="sp" dy="-5">-2</tspan></text>
<text class="s tk" x="215.1" y="660.9">10<tspan class="sp" dy="-5">-3</tspan></text>
<text class="s tk" x="215.1" y="676.45">10<tspan class="sp" dy="-5">-4</tspan></text>
<text class="s tk" x="215.1" y="692">10<tspan class="sp" dy="-5">-5</tspan></text>
<text class="s xc xt" x="218" y="698.7">0</text>
<text class="s xc xt" x="248.93" y="698.7">200</text>
<text class="s xc xt" x="279.85" y="698.7">400</text>
<text class="s xc xt" x="310.77" y="698.7">800</text>
<text class="s xc xt" x="341.7" y="698.7">1200</text>
<text class="s xc" x="279.85" y="710.1">Training epochs</text>
<text class="s yl" transform="translate(195.2 639.85) rotate(-90)">Loss</text>
<path d="M266.4 603.2h11.7" stroke="#000" stroke-width="1.4"/>
<path d="M266.4 614.5h11.7" stroke="#3030b4" stroke-width="1.3" stroke-dasharray="5 3.8"/>
<text class="s lg" x="284" y="606.5">Training loss</text>
<text class="s lg" x="284" y="618.05">Test loss</text>
<path class="g" d="M416.8 593.2V686.5M447.6 593.2V686.5M478.4 593.2V686.5M386 608.75H509.2M386 624.3H509.2M386 639.85H509.2M386 655.4H509.2M386 670.95H509.2"/>
<path class="tr" d="M386.0 616.00 L386.2 642.30 L386.4 656.90 L386.6 657.99 L386.8 658.80 L387.0 659.40 L387.2 659.82 L387.4 660.14 L387.6 660.40 L387.8 660.66 L388.0 660.95 L388.5 661.63 L389.0 662.20 L389.5 662.69 L390.0 663.12 L390.5 663.49 L391.0 663.83 L391.5 664.15 L392.0 664.45 L392.5 664.72 L393.0 664.97 L393.5 665.19 L394.0 665.39 L394.5 665.57 L395.0 665.72 L395.5 665.86 L396.0 665.99 L396.5 666.11 L397.0 666.22 L397.5 666.33 L398.0 666.43 L399.0 666.62 L400.0 666.82 L401.0 667.01 L402.0 667.21 L403.0 667.39 L404.0 667.57 L405.0 667.74 L406.0 667.90 L407.0 668.05 L408.0 668.18 L409.0 668.30 L410.0 668.40 L411.0 668.50 L412.0 668.59 L413.0 668.67 L414.0 668.75 L415.0 668.82 L416.0 668.90 L417.0 668.96 L418.0 669.03 L419.0 669.10 L420.0 669.16 L421.0 669.23 L422.0 669.29 L423.0 669.36 L424.0 669.44 L425.0 669.51 L426.0 669.59 L428.5 669.79 L431.0 669.98 L433.5 670.13 L436.0 670.24 L438.5 670.32 L441.0 670.40 L443.5 670.47 L446.0 670.53 L448.5 670.59 L451.0 670.65 L453.5 670.70 L456.0 670.74 L458.5 670.79 L461.0 670.83 L463.5 670.88 L466.0 670.92 L468.5 670.97 L471.0 671.02 L473.5 671.07 L476.0 671.12 L478.5 671.17 L481.0 671.22 L483.5 671.26 L486.0 671.31 L488.5 671.35 L491.0 671.40 L493.5 671.44 L496.0 671.49 L498.5 671.53 L501.0 671.57 L503.5 671.61 L506.0 671.65 L508.5 671.69 L509.2 671.70"/>
<path class="te" stroke-width="1.5" stroke-dasharray="1.8 0.5" d="M386.0 612.00 L386.2 635.17 L386.4 648.30 L386.6 648.89 L386.8 649.38 L387.0 649.79 L387.2 650.12 L387.4 650.39 L387.6 650.60 L387.8 650.77 L388.0 650.90 L388.5 651.15 L389.0 651.41 L389.5 651.65 L390.0 651.87 L390.5 652.06 L391.0 652.23 L391.5 652.39 L392.0 652.53 L392.5 652.65 L393.0 652.77 L393.5 652.87 L394.0 652.98 L394.5 653.08 L395.0 653.18 L395.5 653.28 L396.0 653.37 L396.5 653.46 L397.0 653.55 L397.5 653.64 L398.0 653.72 L399.0 653.87 L400.0 654.01 L401.0 654.14 L402.0 654.27 L403.0 654.38 L404.0 654.48 L405.0 654.58 L406.0 654.67 L407.0 654.76 L408.0 654.84 L409.0 654.91 L410.0 654.99 L411.0 655.05 L412.0 655.11 L413.0 655.16 L414.0 655.21 L415.0 655.25 L416.0 655.28 L417.0 655.31 L418.0 655.34 L419.0 655.37 L420.0 655.39 L421.0 655.42 L422.0 655.45 L423.0 655.48 L424.0 655.52 L425.0 655.56 L426.0 655.60 L428.5 655.72 L431.0 655.84 L433.5 655.95 L436.0 656.03 L438.5 656.11 L441.0 656.18 L443.5 656.24 L446.0 656.31 L448.5 656.37 L451.0 656.42 L453.5 656.48 L456.0 656.53 L458.5 656.58 L461.0 656.63 L463.5 656.68 L466.0 656.73 L468.5 656.77 L471.0 656.82 L473.5 656.86 L476.0 656.91 L478.5 656.95 L481.0 656.99 L483.5 657.04 L486.0 657.08 L488.5 657.12 L491.0 657.16 L493.5 657.19 L496.0 657.23 L498.5 657.27 L501.0 657.30 L503.5 657.33 L506.0 657.36 L508.5 657.39 L509.2 657.40"/>
<rect x="432" y="593.2" width="77.2" height="26" fill="#fff"/>
<rect class="ax" x="386" y="593.2" width="123.2" height="93.3"/>
<path class="tm" d="M416.8 686.5v-1.3M416.8 593.2v1.3M447.6 686.5v-1.3M447.6 593.2v1.3M478.4 686.5v-1.3M478.4 593.2v1.3M386 608.75h1.3M509.2 608.75h-1.3M386 624.3h1.3M509.2 624.3h-1.3M386 639.85h1.3M509.2 639.85h-1.3M386 655.4h1.3M509.2 655.4h-1.3M386 670.95h1.3M509.2 670.95h-1.3"/>
<text class="s tk" x="383.1" y="598.7">10<tspan class="sp" dy="-5">1</tspan></text>
<text class="s tk" x="383.1" y="614.25">10<tspan class="sp" dy="-5">0</tspan></text>
<text class="s tk" x="383.1" y="629.8">10<tspan class="sp" dy="-5">-1</tspan></text>
<text class="s tk" x="383.1" y="645.35">10<tspan class="sp" dy="-5">-2</tspan></text>
<text class="s tk" x="383.1" y="660.9">10<tspan class="sp" dy="-5">-3</tspan></text>
<text class="s tk" x="383.1" y="676.45">10<tspan class="sp" dy="-5">-4</tspan></text>
<text class="s tk" x="383.1" y="692">10<tspan class="sp" dy="-5">-5</tspan></text>
<text class="s xc xt" x="386" y="698.7">0</text>
<text class="s xc xt" x="416.8" y="698.7">200</text>
<text class="s xc xt" x="447.6" y="698.7">400</text>
<text class="s xc xt" x="478.4" y="698.7">800</text>
<text class="s xc xt" x="509.2" y="698.7">1200</text>
<text class="s xc" x="447.6" y="710.1">Training epochs</text>
<text class="s yl" transform="translate(363.2 639.85) rotate(-90)">Loss</text>
<path d="M434.4 603.2h11.7" stroke="#000" stroke-width="1.4"/>
<path d="M434.4 614.5h11.7" stroke="#3030b4" stroke-width="1.3" stroke-dasharray="5 3.8"/>
<text class="s lg" x="452" y="606.5">Training loss</text>
<text class="s lg" x="452" y="618.05">Test loss</text>
<text class="s b rl" transform="translate(10.7 779.25) rotate(-90)"><tspan font-style="italic">r</tspan> = 8</text>
<path class="g" d="M81.3 724.6V818.1M112.2 724.6V818.1M143.1 724.6V818.1M50.4 740.18H174M50.4 755.77H174M50.4 771.35H174M50.4 786.93H174M50.4 802.52H174"/>
<path class="tr" d="M50.4 750.00 L50.6 758.27 L50.8 766.38 L51.0 773.14 L51.2 777.34 L51.4 778.33 L51.6 778.76 L51.8 779.12 L52.0 779.43 L52.2 779.69 L52.4 779.90 L52.9 780.29 L53.4 780.53 L53.9 780.70 L54.4 780.85 L54.9 780.99 L55.4 781.11 L55.9 781.22 L56.4 781.32 L56.9 781.41 L57.4 781.48 L57.9 781.55 L58.4 781.61 L58.9 781.67 L59.4 781.71 L59.9 781.75 L60.4 781.79 L60.9 781.83 L61.4 781.86 L61.9 781.89 L62.4 781.93 L63.4 781.98 L64.4 782.04 L65.4 782.09 L66.4 782.13 L67.4 782.17 L68.4 782.21 L69.4 782.25 L70.4 782.28 L71.4 782.31 L72.4 782.34 L73.4 782.37 L74.4 782.40 L75.4 782.43 L76.4 782.46 L77.4 782.49 L78.4 782.52 L79.4 782.55 L80.4 782.58 L81.4 782.62 L82.4 782.65 L83.4 782.68 L84.4 782.71 L85.4 782.74 L86.4 782.77 L87.4 782.80 L88.4 782.83 L89.4 782.86 L90.4 782.89 L92.9 782.96 L95.4 783.03 L97.9 783.09 L100.4 783.15 L102.9 783.20 L105.4 783.25 L107.9 783.29 L110.4 783.32 L112.9 783.35 L115.4 783.38 L117.9 783.41 L120.4 783.44 L122.9 783.47 L125.4 783.50 L127.9 783.52 L130.4 783.55 L132.9 783.57 L135.4 783.60 L137.9 783.62 L140.4 783.64 L142.9 783.66 L145.4 783.68 L147.9 783.70 L150.4 783.72 L152.9 783.73 L155.4 783.75 L157.9 783.76 L160.4 783.77 L162.9 783.78 L165.4 783.79 L167.9 783.79 L170.4 783.80 L172.9 783.80 L174.0 783.80"/>
<path class="te" stroke-width="1.5" stroke-dasharray="1.8 0.5" d="M50.4 747.00 L50.6 753.52 L50.8 760.12 L51.0 765.74 L51.2 769.32 L51.4 770.24 L51.6 770.69 L51.8 771.11 L52.0 771.48 L52.2 771.81 L52.4 772.11 L52.9 772.71 L53.4 773.14 L53.9 773.43 L54.4 773.61 L54.9 773.72 L55.4 773.80 L55.9 773.87 L56.4 773.94 L56.9 774.00 L57.4 774.05 L57.9 774.09 L58.4 774.13 L58.9 774.16 L59.4 774.18 L59.9 774.19 L60.4 774.20 L60.9 774.20 L61.4 774.19 L61.9 774.19 L62.4 774.18 L63.4 774.15 L64.4 774.11 L65.4 774.06 L66.4 774.01 L67.4 773.96 L68.4 773.90 L69.4 773.84 L70.4 773.79 L71.4 773.73 L72.4 773.69 L73.4 773.64 L74.4 773.58 L75.4 773.53 L76.4 773.47 L77.4 773.42 L78.4 773.36 L79.4 773.31 L80.4 773.25 L81.4 773.20 L82.4 773.15 L83.4 773.11 L84.4 773.07 L85.4 773.03 L86.4 772.99 L87.4 772.95 L88.4 772.92 L89.4 772.89 L90.4 772.85 L92.9 772.77 L95.4 772.69 L97.9 772.61 L100.4 772.53 L102.9 772.46 L105.4 772.39 L107.9 772.32 L110.4 772.27 L112.9 772.22 L115.4 772.17 L117.9 772.13 L120.4 772.09 L122.9 772.05 L125.4 772.01 L127.9 771.98 L130.4 771.94 L132.9 771.90 L135.4 771.87 L137.9 771.83 L140.4 771.79 L142.9 771.76 L145.4 771.72 L147.9 771.68 L150.4 771.64 L152.9 771.60 L155.4 771.57 L157.9 771.53 L160.4 771.49 L162.9 771.46 L165.4 771.42 L167.9 771.39 L170.4 771.35 L172.9 771.32 L174.0 771.30"/>
<rect x="96.4" y="724.6" width="77.6" height="26" fill="#fff"/>
<rect class="ax" x="50.4" y="724.6" width="123.6" height="93.5"/>
<path class="tm" d="M81.3 818.1v-1.3M81.3 724.6v1.3M112.2 818.1v-1.3M112.2 724.6v1.3M143.1 818.1v-1.3M143.1 724.6v1.3M50.4 740.18h1.3M174 740.18h-1.3M50.4 755.77h1.3M174 755.77h-1.3M50.4 771.35h1.3M174 771.35h-1.3M50.4 786.93h1.3M174 786.93h-1.3M50.4 802.52h1.3M174 802.52h-1.3"/>
<text class="s tk" x="47.5" y="730.1">10<tspan class="sp" dy="-5">1</tspan></text>
<text class="s tk" x="47.5" y="745.68">10<tspan class="sp" dy="-5">0</tspan></text>
<text class="s tk" x="47.5" y="761.27">10<tspan class="sp" dy="-5">-1</tspan></text>
<text class="s tk" x="47.5" y="776.85">10<tspan class="sp" dy="-5">-2</tspan></text>
<text class="s tk" x="47.5" y="792.43">10<tspan class="sp" dy="-5">-3</tspan></text>
<text class="s tk" x="47.5" y="808.02">10<tspan class="sp" dy="-5">-4</tspan></text>
<text class="s tk" x="47.5" y="823.6">10<tspan class="sp" dy="-5">-5</tspan></text>
<text class="s xc xt" x="50.4" y="830.3">0</text>
<text class="s xc xt" x="81.3" y="830.3">200</text>
<text class="s xc xt" x="112.2" y="830.3">400</text>
<text class="s xc xt" x="143.1" y="830.3">800</text>
<text class="s xc xt" x="174" y="830.3">1200</text>
<text class="s xc" x="112.2" y="843">Training epochs</text>
<text class="s yl" transform="translate(27.6 771.35) rotate(-90)">Loss</text>
<path d="M98.8 734.6h11.7" stroke="#000" stroke-width="1.4"/>
<path d="M98.8 745.9h11.7" stroke="#3030b4" stroke-width="1.3" stroke-dasharray="5 3.8"/>
<text class="s lg" x="116.4" y="737.9">Training loss</text>
<text class="s lg" x="116.4" y="749.45">Test loss</text>
<path class="g" d="M248.93 724.6V818.1M279.85 724.6V818.1M310.77 724.6V818.1M218 740.18H341.7M218 755.77H341.7M218 771.35H341.7M218 786.93H341.7M218 802.52H341.7"/>
<path class="tr" d="M218.0 750.00 L218.2 774.45 L218.4 787.90 L218.6 788.66 L218.8 789.24 L219.0 789.66 L219.2 789.96 L219.4 790.18 L219.6 790.36 L219.8 790.51 L220.0 790.69 L220.5 791.08 L221.0 791.40 L221.5 791.67 L222.0 791.89 L222.5 792.09 L223.0 792.27 L223.5 792.44 L224.0 792.60 L224.5 792.75 L225.0 792.88 L225.5 793.00 L226.0 793.10 L226.5 793.18 L227.0 793.26 L227.5 793.33 L228.0 793.39 L228.5 793.45 L229.0 793.51 L229.5 793.57 L230.0 793.62 L231.0 793.71 L232.0 793.80 L233.0 793.88 L234.0 793.95 L235.0 794.02 L236.0 794.09 L237.0 794.15 L238.0 794.21 L239.0 794.27 L240.0 794.32 L241.0 794.37 L242.0 794.42 L243.0 794.47 L244.0 794.52 L245.0 794.56 L246.0 794.60 L247.0 794.65 L248.0 794.69 L249.0 794.73 L250.0 794.77 L251.0 794.81 L252.0 794.85 L253.0 794.90 L254.0 794.94 L255.0 794.98 L256.0 795.02 L257.0 795.07 L258.0 795.11 L260.5 795.20 L263.0 795.29 L265.5 795.36 L268.0 795.42 L270.5 795.48 L273.0 795.53 L275.5 795.58 L278.0 795.63 L280.5 795.68 L283.0 795.73 L285.5 795.78 L288.0 795.83 L290.5 795.88 L293.0 795.92 L295.5 795.96 L298.0 796.01 L300.5 796.05 L303.0 796.08 L305.5 796.12 L308.0 796.16 L310.5 796.19 L313.0 796.22 L315.5 796.25 L318.0 796.27 L320.5 796.30 L323.0 796.32 L325.5 796.34 L328.0 796.36 L330.5 796.37 L333.0 796.38 L335.5 796.39 L338.0 796.40 L340.5 796.40 L341.7 796.40"/>
<path class="te" stroke-width="1.5" stroke-dasharray="1.8 0.5" d="M218.0 745.75 L218.2 755.60 L218.4 765.47 L218.6 773.76 L218.8 778.85 L219.0 779.87 L219.2 780.18 L219.4 780.46 L219.6 780.69 L219.8 780.89 L220.0 781.05 L220.5 781.37 L221.0 781.59 L221.5 781.78 L222.0 781.99 L222.5 782.19 L223.0 782.39 L223.5 782.56 L224.0 782.73 L224.5 782.87 L225.0 783.00 L225.5 783.12 L226.0 783.21 L226.5 783.29 L227.0 783.35 L227.5 783.41 L228.0 783.46 L228.5 783.52 L229.0 783.57 L229.5 783.61 L230.0 783.66 L231.0 783.74 L232.0 783.81 L233.0 783.87 L234.0 783.92 L235.0 783.96 L236.0 783.99 L237.0 784.02 L238.0 784.04 L239.0 784.06 L240.0 784.07 L241.0 784.09 L242.0 784.10 L243.0 784.11 L244.0 784.12 L245.0 784.13 L246.0 784.14 L247.0 784.15 L248.0 784.16 L249.0 784.18 L250.0 784.19 L251.0 784.20 L252.0 784.22 L253.0 784.24 L254.0 784.26 L255.0 784.28 L256.0 784.30 L257.0 784.32 L258.0 784.34 L260.5 784.39 L263.0 784.44 L265.5 784.48 L268.0 784.51 L270.5 784.54 L273.0 784.56 L275.5 784.59 L278.0 784.62 L280.5 784.64 L283.0 784.67 L285.5 784.69 L288.0 784.71 L290.5 784.74 L293.0 784.76 L295.5 784.78 L298.0 784.80 L300.5 784.82 L303.0 784.84 L305.5 784.86 L308.0 784.88 L310.5 784.89 L313.0 784.91 L315.5 784.92 L318.0 784.94 L320.5 784.95 L323.0 784.96 L325.5 784.97 L328.0 784.98 L330.5 784.99 L333.0 784.99 L335.5 785.00 L338.0 785.00 L340.5 785.00 L341.7 785.00"/>
<rect x="264" y="724.6" width="77.7" height="26" fill="#fff"/>
<rect class="ax" x="218" y="724.6" width="123.7" height="93.5"/>
<path class="tm" d="M248.93 818.1v-1.3M248.93 724.6v1.3M279.85 818.1v-1.3M279.85 724.6v1.3M310.77 818.1v-1.3M310.77 724.6v1.3M218 740.18h1.3M341.7 740.18h-1.3M218 755.77h1.3M341.7 755.77h-1.3M218 771.35h1.3M341.7 771.35h-1.3M218 786.93h1.3M341.7 786.93h-1.3M218 802.52h1.3M341.7 802.52h-1.3"/>
<text class="s tk" x="215.1" y="730.1">10<tspan class="sp" dy="-5">1</tspan></text>
<text class="s tk" x="215.1" y="745.68">10<tspan class="sp" dy="-5">0</tspan></text>
<text class="s tk" x="215.1" y="761.27">10<tspan class="sp" dy="-5">-1</tspan></text>
<text class="s tk" x="215.1" y="776.85">10<tspan class="sp" dy="-5">-2</tspan></text>
<text class="s tk" x="215.1" y="792.43">10<tspan class="sp" dy="-5">-3</tspan></text>
<text class="s tk" x="215.1" y="808.02">10<tspan class="sp" dy="-5">-4</tspan></text>
<text class="s tk" x="215.1" y="823.6">10<tspan class="sp" dy="-5">-5</tspan></text>
<text class="s xc xt" x="218" y="830.3">0</text>
<text class="s xc xt" x="248.93" y="830.3">200</text>
<text class="s xc xt" x="279.85" y="830.3">400</text>
<text class="s xc xt" x="310.77" y="830.3">800</text>
<text class="s xc xt" x="341.7" y="830.3">1200</text>
<text class="s xc" x="279.85" y="843">Training epochs</text>
<text class="s yl" transform="translate(195.2 771.35) rotate(-90)">Loss</text>
<path d="M266.4 734.6h11.7" stroke="#000" stroke-width="1.4"/>
<path d="M266.4 745.9h11.7" stroke="#3030b4" stroke-width="1.3" stroke-dasharray="5 3.8"/>
<text class="s lg" x="284" y="737.9">Training loss</text>
<text class="s lg" x="284" y="749.45">Test loss</text>
<path class="g" d="M416.8 724.6V818.1M447.6 724.6V818.1M478.4 724.6V818.1M386 740.18H509.2M386 755.77H509.2M386 771.35H509.2M386 786.93H509.2M386 802.52H509.2"/>
<path class="tr" d="M386.0 740.00 L386.2 771.31 L386.4 788.40 L386.6 789.08 L386.8 789.60 L387.0 789.97 L387.2 790.24 L387.4 790.44 L387.6 790.59 L387.8 790.73 L388.0 790.88 L388.5 791.22 L389.0 791.50 L389.5 791.72 L390.0 791.92 L390.5 792.10 L391.0 792.27 L391.5 792.43 L392.0 792.59 L392.5 792.74 L393.0 792.87 L393.5 792.99 L394.0 793.10 L394.5 793.18 L395.0 793.26 L395.5 793.33 L396.0 793.39 L396.5 793.45 L397.0 793.51 L397.5 793.57 L398.0 793.62 L399.0 793.71 L400.0 793.80 L401.0 793.88 L402.0 793.95 L403.0 794.02 L404.0 794.09 L405.0 794.15 L406.0 794.21 L407.0 794.27 L408.0 794.32 L409.0 794.37 L410.0 794.42 L411.0 794.47 L412.0 794.52 L413.0 794.56 L414.0 794.60 L415.0 794.65 L416.0 794.69 L417.0 794.73 L418.0 794.77 L419.0 794.81 L420.0 794.85 L421.0 794.90 L422.0 794.94 L423.0 794.98 L424.0 795.02 L425.0 795.07 L426.0 795.11 L428.5 795.20 L431.0 795.29 L433.5 795.36 L436.0 795.42 L438.5 795.48 L441.0 795.53 L443.5 795.58 L446.0 795.63 L448.5 795.69 L451.0 795.73 L453.5 795.78 L456.0 795.83 L458.5 795.88 L461.0 795.92 L463.5 795.97 L466.0 796.01 L468.5 796.05 L471.0 796.09 L473.5 796.12 L476.0 796.16 L478.5 796.19 L481.0 796.22 L483.5 796.25 L486.0 796.28 L488.5 796.30 L491.0 796.32 L493.5 796.34 L496.0 796.36 L498.5 796.37 L501.0 796.38 L503.5 796.39 L506.0 796.40 L508.5 796.40 L509.2 796.40"/>
<path class="te" stroke-width="1.5" stroke-dasharray="1.8 0.5" d="M386.0 734.50 L386.2 763.25 L386.4 779.70 L386.6 780.06 L386.8 780.37 L387.0 780.64 L387.2 780.87 L387.4 781.07 L387.6 781.23 L387.8 781.38 L388.0 781.49 L388.5 781.71 L389.0 781.86 L389.5 782.00 L390.0 782.17 L390.5 782.35 L391.0 782.52 L391.5 782.67 L392.0 782.80 L392.5 782.93 L393.0 783.04 L393.5 783.13 L394.0 783.22 L394.5 783.29 L395.0 783.35 L395.5 783.40 L396.0 783.46 L396.5 783.51 L397.0 783.56 L397.5 783.60 L398.0 783.65 L399.0 783.72 L400.0 783.80 L401.0 783.86 L402.0 783.91 L403.0 783.95 L404.0 783.99 L405.0 784.03 L406.0 784.05 L407.0 784.08 L408.0 784.10 L409.0 784.12 L410.0 784.14 L411.0 784.16 L412.0 784.18 L413.0 784.20 L414.0 784.21 L415.0 784.23 L416.0 784.25 L417.0 784.26 L418.0 784.28 L419.0 784.31 L420.0 784.33 L421.0 784.36 L422.0 784.39 L423.0 784.41 L424.0 784.44 L425.0 784.47 L426.0 784.50 L428.5 784.58 L431.0 784.64 L433.5 784.68 L436.0 784.71 L438.5 784.73 L441.0 784.75 L443.5 784.77 L446.0 784.78 L448.5 784.80 L451.0 784.82 L453.5 784.83 L456.0 784.85 L458.5 784.86 L461.0 784.87 L463.5 784.89 L466.0 784.90 L468.5 784.91 L471.0 784.92 L473.5 784.93 L476.0 784.94 L478.5 784.95 L481.0 784.96 L483.5 784.96 L486.0 784.97 L488.5 784.98 L491.0 784.98 L493.5 784.99 L496.0 784.99 L498.5 784.99 L501.0 785.00 L503.5 785.00 L506.0 785.00 L508.5 785.00 L509.2 785.00"/>
<rect x="432" y="724.6" width="77.2" height="26" fill="#fff"/>
<rect class="ax" x="386" y="724.6" width="123.2" height="93.5"/>
<path class="tm" d="M416.8 818.1v-1.3M416.8 724.6v1.3M447.6 818.1v-1.3M447.6 724.6v1.3M478.4 818.1v-1.3M478.4 724.6v1.3M386 740.18h1.3M509.2 740.18h-1.3M386 755.77h1.3M509.2 755.77h-1.3M386 771.35h1.3M509.2 771.35h-1.3M386 786.93h1.3M509.2 786.93h-1.3M386 802.52h1.3M509.2 802.52h-1.3"/>
<text class="s tk" x="383.1" y="730.1">10<tspan class="sp" dy="-5">1</tspan></text>
<text class="s tk" x="383.1" y="745.68">10<tspan class="sp" dy="-5">0</tspan></text>
<text class="s tk" x="383.1" y="761.27">10<tspan class="sp" dy="-5">-1</tspan></text>
<text class="s tk" x="383.1" y="776.85">10<tspan class="sp" dy="-5">-2</tspan></text>
<text class="s tk" x="383.1" y="792.43">10<tspan class="sp" dy="-5">-3</tspan></text>
<text class="s tk" x="383.1" y="808.02">10<tspan class="sp" dy="-5">-4</tspan></text>
<text class="s tk" x="383.1" y="823.6">10<tspan class="sp" dy="-5">-5</tspan></text>
<text class="s xc xt" x="386" y="830.3">0</text>
<text class="s xc xt" x="416.8" y="830.3">200</text>
<text class="s xc xt" x="447.6" y="830.3">400</text>
<text class="s xc xt" x="478.4" y="830.3">800</text>
<text class="s xc xt" x="509.2" y="830.3">1200</text>
<text class="s xc" x="447.6" y="843">Training epochs</text>
<text class="s yl" transform="translate(363.2 771.35) rotate(-90)">Loss</text>
<path d="M434.4 734.6h11.7" stroke="#000" stroke-width="1.4"/>
<path d="M434.4 745.9h11.7" stroke="#3030b4" stroke-width="1.3" stroke-dasharray="5 3.8"/>
<text class="s lg" x="452" y="737.9">Training loss</text>
<text class="s lg" x="452" y="749.45">Test loss</text>
</svg></body></html>
